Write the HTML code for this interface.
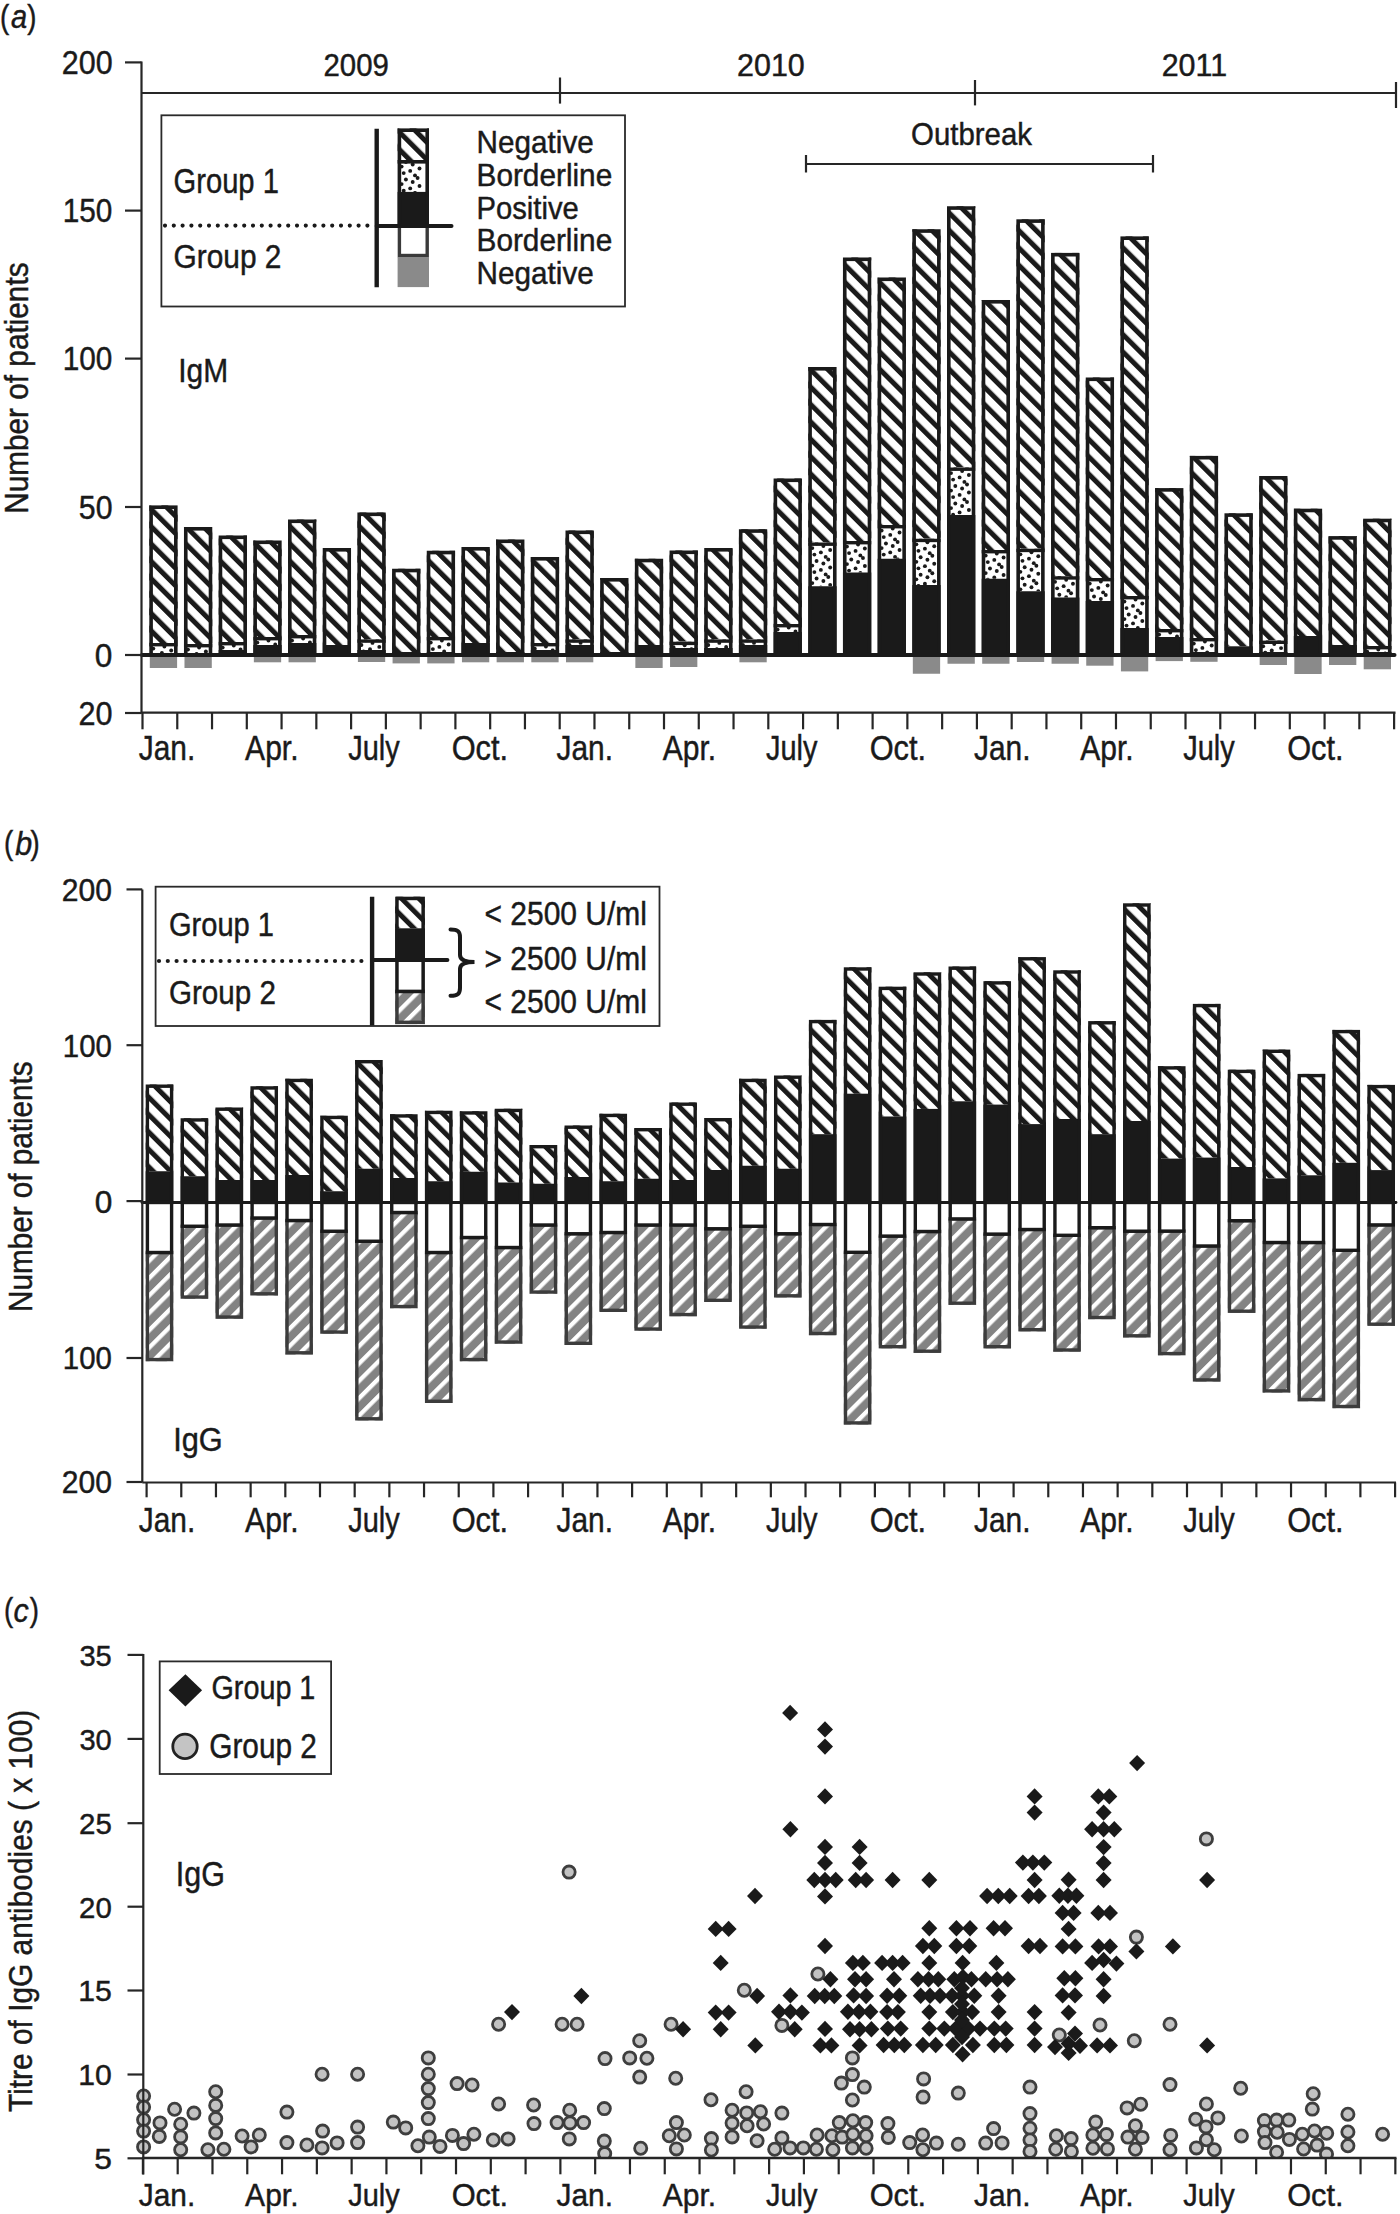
<!DOCTYPE html><html><head><meta charset="utf-8"><title>Figure</title><style>html,body{margin:0;padding:0;background:#fff;}svg{display:block;}text{font-family:"Liberation Sans",Arial,sans-serif;stroke:#1a1a1a;stroke-width:0.45px;}</style></head><body>
<svg width="1400" height="2214" viewBox="0 0 1400 2214">
<defs>
<pattern id="hb" patternUnits="userSpaceOnUse" width="12.282" height="20" patternTransform="rotate(-45) translate(2.296,0)"><rect width="12.282" height="20" fill="#fff"/><rect width="5.0" height="20" fill="#1a1a1a"/></pattern>
<pattern id="hg" patternUnits="userSpaceOnUse" width="12.282" height="20" patternTransform="rotate(45)"><rect width="12.282" height="20" fill="#838383"/><rect width="4.3" height="20" fill="#fff"/></pattern>
<pattern id="dt" patternUnits="userSpaceOnUse" width="7.2" height="7.2"><rect width="7.2" height="7.2" fill="#fff"/><circle cx="1.8" cy="1.8" r="1.55" fill="#1a1a1a"/><circle cx="5.4" cy="5.4" r="1.55" fill="#1a1a1a"/></pattern>
</defs>
<rect width="1400" height="2214" fill="#fff"/>
<text transform="translate(-0.02,28.00) scale(0.8356,1)" font-size="32.97" fill="#1a1a1a">(</text>
<text transform="translate(10.95,28.30) scale(0.8660,1)" font-size="33.49" font-style="italic" fill="#1a1a1a">a</text>
<text transform="translate(27.19,28.00) scale(0.8356,1)" font-size="32.97" fill="#1a1a1a">)</text>
<rect x="149.80" y="656.00" width="27.30" height="12.00" fill="#8a8a8a" stroke="none" stroke-width="0"/>
<rect x="149.30" y="505.40" width="28.30" height="137.60" fill="url(#hb)" stroke="none" stroke-width="0"/>
<clipPath id="dc1"><rect x="149.30" y="643.00" width="28.30" height="10.00"/></clipPath>
<rect x="149.30" y="643.00" width="28.30" height="10.00" fill="#fff"/>
<g clip-path="url(#dc1)" fill="#1a1a1a"><circle cx="157.60" cy="644.00" r="1.95"/><circle cx="164.40" cy="646.50" r="1.95"/><circle cx="153.30" cy="648.60" r="1.95"/><circle cx="161.90" cy="652.90" r="1.95"/><circle cx="171.20" cy="650.50" r="1.95"/><circle cx="169.30" cy="642.50" r="1.95"/></g>
<rect x="149.30" y="643.00" width="28.30" height="3.40" fill="#1a1a1a" stroke="none" stroke-width="0"/>
<rect x="149.30" y="653.00" width="28.30" height="2.00" fill="#1a1a1a" stroke="none" stroke-width="0"/>
<rect x="151.10" y="507.20" width="24.70" height="147.80" fill="none" stroke="#1a1a1a" stroke-width="3.6"/>
<rect x="184.48" y="656.00" width="27.30" height="12.00" fill="#8a8a8a" stroke="none" stroke-width="0"/>
<rect x="183.98" y="527.00" width="28.30" height="117.00" fill="url(#hb)" stroke="none" stroke-width="0"/>
<clipPath id="dc2"><rect x="183.98" y="644.00" width="28.30" height="9.00"/></clipPath>
<rect x="183.98" y="644.00" width="28.30" height="9.00" fill="#fff"/>
<g clip-path="url(#dc2)" fill="#1a1a1a"><circle cx="192.28" cy="645.00" r="1.95"/><circle cx="199.08" cy="647.50" r="1.95"/><circle cx="187.98" cy="649.60" r="1.95"/><circle cx="196.58" cy="653.90" r="1.95"/><circle cx="205.88" cy="651.50" r="1.95"/><circle cx="203.98" cy="643.50" r="1.95"/></g>
<rect x="183.98" y="644.00" width="28.30" height="3.40" fill="#1a1a1a" stroke="none" stroke-width="0"/>
<rect x="183.98" y="653.00" width="28.30" height="2.00" fill="#1a1a1a" stroke="none" stroke-width="0"/>
<rect x="185.78" y="528.80" width="24.70" height="126.20" fill="none" stroke="#1a1a1a" stroke-width="3.6"/>
<rect x="218.67" y="535.50" width="28.30" height="106.50" fill="url(#hb)" stroke="none" stroke-width="0"/>
<clipPath id="dc3"><rect x="218.67" y="642.00" width="28.30" height="8.00"/></clipPath>
<rect x="218.67" y="642.00" width="28.30" height="8.00" fill="#fff"/>
<g clip-path="url(#dc3)" fill="#1a1a1a"><circle cx="226.97" cy="643.00" r="1.95"/><circle cx="233.77" cy="645.50" r="1.95"/><circle cx="222.67" cy="647.60" r="1.95"/><circle cx="231.27" cy="651.90" r="1.95"/><circle cx="240.57" cy="649.50" r="1.95"/><circle cx="238.67" cy="641.50" r="1.95"/></g>
<rect x="218.67" y="642.00" width="28.30" height="3.40" fill="#1a1a1a" stroke="none" stroke-width="0"/>
<rect x="218.67" y="650.00" width="28.30" height="5.00" fill="#1a1a1a" stroke="none" stroke-width="0"/>
<rect x="220.47" y="537.30" width="24.70" height="117.70" fill="none" stroke="#1a1a1a" stroke-width="3.6"/>
<rect x="253.85" y="656.00" width="27.30" height="6.30" fill="#8a8a8a" stroke="none" stroke-width="0"/>
<rect x="253.35" y="540.50" width="28.30" height="96.50" fill="url(#hb)" stroke="none" stroke-width="0"/>
<clipPath id="dc4"><rect x="253.35" y="637.00" width="28.30" height="8.00"/></clipPath>
<rect x="253.35" y="637.00" width="28.30" height="8.00" fill="#fff"/>
<g clip-path="url(#dc4)" fill="#1a1a1a"><circle cx="261.65" cy="638.00" r="1.95"/><circle cx="268.45" cy="640.50" r="1.95"/><circle cx="257.35" cy="642.60" r="1.95"/><circle cx="265.95" cy="646.90" r="1.95"/><circle cx="275.25" cy="644.50" r="1.95"/><circle cx="273.35" cy="636.50" r="1.95"/></g>
<rect x="253.35" y="637.00" width="28.30" height="3.40" fill="#1a1a1a" stroke="none" stroke-width="0"/>
<rect x="253.35" y="645.00" width="28.30" height="10.00" fill="#1a1a1a" stroke="none" stroke-width="0"/>
<rect x="255.15" y="542.30" width="24.70" height="112.70" fill="none" stroke="#1a1a1a" stroke-width="3.6"/>
<rect x="288.53" y="656.00" width="27.30" height="6.30" fill="#8a8a8a" stroke="none" stroke-width="0"/>
<rect x="288.03" y="519.50" width="28.30" height="115.50" fill="url(#hb)" stroke="none" stroke-width="0"/>
<clipPath id="dc5"><rect x="288.03" y="635.00" width="28.30" height="8.00"/></clipPath>
<rect x="288.03" y="635.00" width="28.30" height="8.00" fill="#fff"/>
<g clip-path="url(#dc5)" fill="#1a1a1a"><circle cx="296.33" cy="636.00" r="1.95"/><circle cx="303.13" cy="638.50" r="1.95"/><circle cx="292.03" cy="640.60" r="1.95"/><circle cx="300.63" cy="644.90" r="1.95"/><circle cx="309.93" cy="642.50" r="1.95"/><circle cx="308.03" cy="634.50" r="1.95"/></g>
<rect x="288.03" y="635.00" width="28.30" height="3.40" fill="#1a1a1a" stroke="none" stroke-width="0"/>
<rect x="288.03" y="643.00" width="28.30" height="12.00" fill="#1a1a1a" stroke="none" stroke-width="0"/>
<rect x="289.83" y="521.30" width="24.70" height="133.70" fill="none" stroke="#1a1a1a" stroke-width="3.6"/>
<rect x="322.72" y="548.00" width="28.30" height="97.00" fill="url(#hb)" stroke="none" stroke-width="0"/>
<clipPath id="dc6"><rect x="322.72" y="645.00" width="28.30" height="3.00"/></clipPath>
<rect x="322.72" y="645.00" width="28.30" height="3.00" fill="#fff"/>
<g clip-path="url(#dc6)" fill="#1a1a1a"><circle cx="331.02" cy="646.00" r="1.95"/><circle cx="337.82" cy="648.50" r="1.95"/><circle cx="342.72" cy="644.50" r="1.95"/></g>
<rect x="322.72" y="645.00" width="28.30" height="3.00" fill="#1a1a1a" stroke="none" stroke-width="0"/>
<rect x="322.72" y="648.00" width="28.30" height="7.00" fill="#1a1a1a" stroke="none" stroke-width="0"/>
<rect x="324.52" y="549.80" width="24.70" height="105.20" fill="none" stroke="#1a1a1a" stroke-width="3.6"/>
<rect x="357.90" y="656.00" width="27.30" height="6.00" fill="#8a8a8a" stroke="none" stroke-width="0"/>
<rect x="357.40" y="512.50" width="28.30" height="126.90" fill="url(#hb)" stroke="none" stroke-width="0"/>
<clipPath id="dc7"><rect x="357.40" y="639.40" width="28.30" height="10.60"/></clipPath>
<rect x="357.40" y="639.40" width="28.30" height="10.60" fill="#fff"/>
<g clip-path="url(#dc7)" fill="#1a1a1a"><circle cx="365.70" cy="640.40" r="1.95"/><circle cx="372.50" cy="642.90" r="1.95"/><circle cx="361.40" cy="645.00" r="1.95"/><circle cx="370.00" cy="649.30" r="1.95"/><circle cx="363.50" cy="651.50" r="1.95"/><circle cx="379.30" cy="646.90" r="1.95"/><circle cx="377.40" cy="638.90" r="1.95"/></g>
<rect x="357.40" y="639.40" width="28.30" height="3.40" fill="#1a1a1a" stroke="none" stroke-width="0"/>
<rect x="357.40" y="650.00" width="28.30" height="5.00" fill="#1a1a1a" stroke="none" stroke-width="0"/>
<rect x="359.20" y="514.30" width="24.70" height="140.70" fill="none" stroke="#1a1a1a" stroke-width="3.6"/>
<rect x="392.58" y="656.00" width="27.30" height="7.40" fill="#8a8a8a" stroke="none" stroke-width="0"/>
<rect x="392.08" y="568.75" width="28.30" height="83.25" fill="url(#hb)" stroke="none" stroke-width="0"/>
<clipPath id="dc8"><rect x="392.08" y="652.00" width="28.30" height="1.00"/></clipPath>
<rect x="392.08" y="652.00" width="28.30" height="1.00" fill="#fff"/>
<g clip-path="url(#dc8)" fill="#1a1a1a"><circle cx="400.38" cy="653.00" r="1.95"/><circle cx="412.08" cy="651.50" r="1.95"/></g>
<rect x="392.08" y="652.00" width="28.30" height="1.00" fill="#1a1a1a" stroke="none" stroke-width="0"/>
<rect x="392.08" y="653.00" width="28.30" height="2.00" fill="#1a1a1a" stroke="none" stroke-width="0"/>
<rect x="393.88" y="570.55" width="24.70" height="84.45" fill="none" stroke="#1a1a1a" stroke-width="3.6"/>
<rect x="427.26" y="656.00" width="27.30" height="7.40" fill="#8a8a8a" stroke="none" stroke-width="0"/>
<rect x="426.76" y="550.75" width="28.30" height="86.25" fill="url(#hb)" stroke="none" stroke-width="0"/>
<clipPath id="dc9"><rect x="426.76" y="637.00" width="28.30" height="15.00"/></clipPath>
<rect x="426.76" y="637.00" width="28.30" height="15.00" fill="#fff"/>
<g clip-path="url(#dc9)" fill="#1a1a1a"><circle cx="435.06" cy="638.00" r="1.95"/><circle cx="441.86" cy="640.50" r="1.95"/><circle cx="430.76" cy="642.60" r="1.95"/><circle cx="439.36" cy="646.90" r="1.95"/><circle cx="432.86" cy="649.10" r="1.95"/><circle cx="444.16" cy="651.40" r="1.95"/><circle cx="448.66" cy="644.50" r="1.95"/><circle cx="446.76" cy="636.50" r="1.95"/></g>
<rect x="426.76" y="637.00" width="28.30" height="3.40" fill="#1a1a1a" stroke="none" stroke-width="0"/>
<rect x="426.76" y="652.00" width="28.30" height="3.00" fill="#1a1a1a" stroke="none" stroke-width="0"/>
<rect x="428.56" y="552.55" width="24.70" height="102.45" fill="none" stroke="#1a1a1a" stroke-width="3.6"/>
<rect x="461.95" y="656.00" width="27.30" height="6.30" fill="#8a8a8a" stroke="none" stroke-width="0"/>
<rect x="461.45" y="547.00" width="28.30" height="96.00" fill="url(#hb)" stroke="none" stroke-width="0"/>
<clipPath id="dc10"><rect x="461.45" y="643.00" width="28.30" height="2.00"/></clipPath>
<rect x="461.45" y="643.00" width="28.30" height="2.00" fill="#fff"/>
<g clip-path="url(#dc10)" fill="#1a1a1a"><circle cx="469.75" cy="644.00" r="1.95"/><circle cx="476.55" cy="646.50" r="1.95"/><circle cx="481.45" cy="642.50" r="1.95"/></g>
<rect x="461.45" y="643.00" width="28.30" height="2.00" fill="#1a1a1a" stroke="none" stroke-width="0"/>
<rect x="461.45" y="645.00" width="28.30" height="10.00" fill="#1a1a1a" stroke="none" stroke-width="0"/>
<rect x="463.25" y="548.80" width="24.70" height="106.20" fill="none" stroke="#1a1a1a" stroke-width="3.6"/>
<rect x="496.63" y="656.00" width="27.30" height="6.30" fill="#8a8a8a" stroke="none" stroke-width="0"/>
<rect x="496.13" y="539.50" width="28.30" height="112.50" fill="url(#hb)" stroke="none" stroke-width="0"/>
<rect x="496.13" y="652.00" width="28.30" height="3.00" fill="#1a1a1a" stroke="none" stroke-width="0"/>
<rect x="497.93" y="541.30" width="24.70" height="113.70" fill="none" stroke="#1a1a1a" stroke-width="3.6"/>
<rect x="531.31" y="656.00" width="27.30" height="6.30" fill="#8a8a8a" stroke="none" stroke-width="0"/>
<rect x="530.81" y="557.00" width="28.30" height="86.00" fill="url(#hb)" stroke="none" stroke-width="0"/>
<clipPath id="dc11"><rect x="530.81" y="643.00" width="28.30" height="7.00"/></clipPath>
<rect x="530.81" y="643.00" width="28.30" height="7.00" fill="#fff"/>
<g clip-path="url(#dc11)" fill="#1a1a1a"><circle cx="539.11" cy="644.00" r="1.95"/><circle cx="545.91" cy="646.50" r="1.95"/><circle cx="534.81" cy="648.60" r="1.95"/><circle cx="552.71" cy="650.50" r="1.95"/><circle cx="550.81" cy="642.50" r="1.95"/></g>
<rect x="530.81" y="643.00" width="28.30" height="3.40" fill="#1a1a1a" stroke="none" stroke-width="0"/>
<rect x="530.81" y="650.00" width="28.30" height="5.00" fill="#1a1a1a" stroke="none" stroke-width="0"/>
<rect x="532.61" y="558.80" width="24.70" height="96.20" fill="none" stroke="#1a1a1a" stroke-width="3.6"/>
<rect x="566.00" y="656.00" width="27.30" height="6.30" fill="#8a8a8a" stroke="none" stroke-width="0"/>
<rect x="565.50" y="530.50" width="28.30" height="108.90" fill="url(#hb)" stroke="none" stroke-width="0"/>
<clipPath id="dc12"><rect x="565.50" y="639.40" width="28.30" height="5.60"/></clipPath>
<rect x="565.50" y="639.40" width="28.30" height="5.60" fill="#fff"/>
<g clip-path="url(#dc12)" fill="#1a1a1a"><circle cx="573.80" cy="640.40" r="1.95"/><circle cx="580.60" cy="642.90" r="1.95"/><circle cx="569.50" cy="645.00" r="1.95"/><circle cx="587.40" cy="646.90" r="1.95"/><circle cx="585.50" cy="638.90" r="1.95"/></g>
<rect x="565.50" y="639.40" width="28.30" height="3.40" fill="#1a1a1a" stroke="none" stroke-width="0"/>
<rect x="565.50" y="645.00" width="28.30" height="10.00" fill="#1a1a1a" stroke="none" stroke-width="0"/>
<rect x="567.30" y="532.30" width="24.70" height="122.70" fill="none" stroke="#1a1a1a" stroke-width="3.6"/>
<rect x="600.18" y="578.00" width="28.30" height="74.00" fill="url(#hb)" stroke="none" stroke-width="0"/>
<rect x="600.18" y="652.00" width="28.30" height="3.00" fill="#1a1a1a" stroke="none" stroke-width="0"/>
<rect x="601.98" y="579.80" width="24.70" height="75.20" fill="none" stroke="#1a1a1a" stroke-width="3.6"/>
<rect x="635.36" y="656.00" width="27.30" height="12.00" fill="#8a8a8a" stroke="none" stroke-width="0"/>
<rect x="634.86" y="558.75" width="28.30" height="86.25" fill="url(#hb)" stroke="none" stroke-width="0"/>
<rect x="634.86" y="645.00" width="28.30" height="10.00" fill="#1a1a1a" stroke="none" stroke-width="0"/>
<rect x="636.66" y="560.55" width="24.70" height="94.45" fill="none" stroke="#1a1a1a" stroke-width="3.6"/>
<rect x="670.05" y="656.00" width="27.30" height="11.00" fill="#8a8a8a" stroke="none" stroke-width="0"/>
<rect x="669.55" y="550.50" width="28.30" height="91.20" fill="url(#hb)" stroke="none" stroke-width="0"/>
<clipPath id="dc13"><rect x="669.55" y="641.70" width="28.30" height="6.30"/></clipPath>
<rect x="669.55" y="641.70" width="28.30" height="6.30" fill="#fff"/>
<g clip-path="url(#dc13)" fill="#1a1a1a"><circle cx="677.85" cy="642.70" r="1.95"/><circle cx="684.65" cy="645.20" r="1.95"/><circle cx="673.55" cy="647.30" r="1.95"/><circle cx="691.45" cy="649.20" r="1.95"/><circle cx="689.55" cy="641.20" r="1.95"/></g>
<rect x="669.55" y="641.70" width="28.30" height="3.40" fill="#1a1a1a" stroke="none" stroke-width="0"/>
<rect x="669.55" y="648.00" width="28.30" height="7.00" fill="#1a1a1a" stroke="none" stroke-width="0"/>
<rect x="671.35" y="552.30" width="24.70" height="102.70" fill="none" stroke="#1a1a1a" stroke-width="3.6"/>
<rect x="704.23" y="548.00" width="28.30" height="91.40" fill="url(#hb)" stroke="none" stroke-width="0"/>
<clipPath id="dc14"><rect x="704.23" y="639.40" width="28.30" height="8.60"/></clipPath>
<rect x="704.23" y="639.40" width="28.30" height="8.60" fill="#fff"/>
<g clip-path="url(#dc14)" fill="#1a1a1a"><circle cx="712.53" cy="640.40" r="1.95"/><circle cx="719.33" cy="642.90" r="1.95"/><circle cx="708.23" cy="645.00" r="1.95"/><circle cx="716.83" cy="649.30" r="1.95"/><circle cx="726.13" cy="646.90" r="1.95"/><circle cx="724.23" cy="638.90" r="1.95"/></g>
<rect x="704.23" y="639.40" width="28.30" height="3.40" fill="#1a1a1a" stroke="none" stroke-width="0"/>
<rect x="704.23" y="648.00" width="28.30" height="7.00" fill="#1a1a1a" stroke="none" stroke-width="0"/>
<rect x="706.03" y="549.80" width="24.70" height="105.20" fill="none" stroke="#1a1a1a" stroke-width="3.6"/>
<rect x="739.41" y="656.00" width="27.30" height="6.30" fill="#8a8a8a" stroke="none" stroke-width="0"/>
<rect x="738.91" y="529.25" width="28.30" height="110.15" fill="url(#hb)" stroke="none" stroke-width="0"/>
<clipPath id="dc15"><rect x="738.91" y="639.40" width="28.30" height="5.60"/></clipPath>
<rect x="738.91" y="639.40" width="28.30" height="5.60" fill="#fff"/>
<g clip-path="url(#dc15)" fill="#1a1a1a"><circle cx="747.21" cy="640.40" r="1.95"/><circle cx="754.01" cy="642.90" r="1.95"/><circle cx="742.91" cy="645.00" r="1.95"/><circle cx="760.81" cy="646.90" r="1.95"/><circle cx="758.91" cy="638.90" r="1.95"/></g>
<rect x="738.91" y="639.40" width="28.30" height="3.40" fill="#1a1a1a" stroke="none" stroke-width="0"/>
<rect x="738.91" y="645.00" width="28.30" height="10.00" fill="#1a1a1a" stroke="none" stroke-width="0"/>
<rect x="740.71" y="531.05" width="24.70" height="123.95" fill="none" stroke="#1a1a1a" stroke-width="3.6"/>
<rect x="773.59" y="478.50" width="28.30" height="145.50" fill="url(#hb)" stroke="none" stroke-width="0"/>
<clipPath id="dc16"><rect x="773.59" y="624.00" width="28.30" height="8.00"/></clipPath>
<rect x="773.59" y="624.00" width="28.30" height="8.00" fill="#fff"/>
<g clip-path="url(#dc16)" fill="#1a1a1a"><circle cx="781.89" cy="625.00" r="1.95"/><circle cx="788.69" cy="627.50" r="1.95"/><circle cx="777.59" cy="629.60" r="1.95"/><circle cx="786.19" cy="633.90" r="1.95"/><circle cx="795.49" cy="631.50" r="1.95"/><circle cx="793.59" cy="623.50" r="1.95"/></g>
<rect x="773.59" y="624.00" width="28.30" height="3.40" fill="#1a1a1a" stroke="none" stroke-width="0"/>
<rect x="773.59" y="632.00" width="28.30" height="23.00" fill="#1a1a1a" stroke="none" stroke-width="0"/>
<rect x="775.39" y="480.30" width="24.70" height="174.70" fill="none" stroke="#1a1a1a" stroke-width="3.6"/>
<rect x="808.28" y="367.00" width="28.30" height="175.50" fill="url(#hb)" stroke="none" stroke-width="0"/>
<clipPath id="dc17"><rect x="808.28" y="542.50" width="28.30" height="43.75"/></clipPath>
<rect x="808.28" y="542.50" width="28.30" height="43.75" fill="#fff"/>
<g clip-path="url(#dc17)" fill="#1a1a1a"><circle cx="816.58" cy="543.50" r="1.95"/><circle cx="823.38" cy="546.00" r="1.95"/><circle cx="812.28" cy="548.10" r="1.95"/><circle cx="820.88" cy="552.40" r="1.95"/><circle cx="814.38" cy="554.60" r="1.95"/><circle cx="825.68" cy="556.90" r="1.95"/><circle cx="830.18" cy="550.00" r="1.95"/><circle cx="828.28" cy="542.00" r="1.95"/><circle cx="816.58" cy="561.00" r="1.95"/><circle cx="823.38" cy="563.50" r="1.95"/><circle cx="812.28" cy="565.60" r="1.95"/><circle cx="820.88" cy="569.90" r="1.95"/><circle cx="814.38" cy="572.10" r="1.95"/><circle cx="825.68" cy="574.40" r="1.95"/><circle cx="830.18" cy="567.50" r="1.95"/><circle cx="828.28" cy="559.50" r="1.95"/><circle cx="816.58" cy="578.50" r="1.95"/><circle cx="823.38" cy="581.00" r="1.95"/><circle cx="812.28" cy="583.10" r="1.95"/><circle cx="820.88" cy="587.40" r="1.95"/><circle cx="830.18" cy="585.00" r="1.95"/><circle cx="828.28" cy="577.00" r="1.95"/></g>
<rect x="808.28" y="542.50" width="28.30" height="3.40" fill="#1a1a1a" stroke="none" stroke-width="0"/>
<rect x="808.28" y="586.25" width="28.30" height="68.75" fill="#1a1a1a" stroke="none" stroke-width="0"/>
<rect x="810.08" y="368.80" width="24.70" height="286.20" fill="none" stroke="#1a1a1a" stroke-width="3.6"/>
<rect x="842.96" y="257.50" width="28.30" height="283.50" fill="url(#hb)" stroke="none" stroke-width="0"/>
<clipPath id="dc18"><rect x="842.96" y="541.00" width="28.30" height="31.50"/></clipPath>
<rect x="842.96" y="541.00" width="28.30" height="31.50" fill="#fff"/>
<g clip-path="url(#dc18)" fill="#1a1a1a"><circle cx="851.26" cy="542.00" r="1.95"/><circle cx="858.06" cy="544.50" r="1.95"/><circle cx="846.96" cy="546.60" r="1.95"/><circle cx="855.56" cy="550.90" r="1.95"/><circle cx="849.06" cy="553.10" r="1.95"/><circle cx="860.36" cy="555.40" r="1.95"/><circle cx="864.86" cy="548.50" r="1.95"/><circle cx="862.96" cy="540.50" r="1.95"/><circle cx="851.26" cy="559.50" r="1.95"/><circle cx="858.06" cy="562.00" r="1.95"/><circle cx="846.96" cy="564.10" r="1.95"/><circle cx="855.56" cy="568.40" r="1.95"/><circle cx="849.06" cy="570.60" r="1.95"/><circle cx="860.36" cy="572.90" r="1.95"/><circle cx="864.86" cy="566.00" r="1.95"/><circle cx="862.96" cy="558.00" r="1.95"/></g>
<rect x="842.96" y="541.00" width="28.30" height="3.40" fill="#1a1a1a" stroke="none" stroke-width="0"/>
<rect x="842.96" y="572.50" width="28.30" height="82.50" fill="#1a1a1a" stroke="none" stroke-width="0"/>
<rect x="844.76" y="259.30" width="24.70" height="395.70" fill="none" stroke="#1a1a1a" stroke-width="3.6"/>
<rect x="877.64" y="277.50" width="28.30" height="247.50" fill="url(#hb)" stroke="none" stroke-width="0"/>
<clipPath id="dc19"><rect x="877.64" y="525.00" width="28.30" height="33.75"/></clipPath>
<rect x="877.64" y="525.00" width="28.30" height="33.75" fill="#fff"/>
<g clip-path="url(#dc19)" fill="#1a1a1a"><circle cx="885.94" cy="526.00" r="1.95"/><circle cx="892.74" cy="528.50" r="1.95"/><circle cx="881.64" cy="530.60" r="1.95"/><circle cx="890.24" cy="534.90" r="1.95"/><circle cx="883.74" cy="537.10" r="1.95"/><circle cx="895.04" cy="539.40" r="1.95"/><circle cx="899.54" cy="532.50" r="1.95"/><circle cx="897.64" cy="524.50" r="1.95"/><circle cx="885.94" cy="543.50" r="1.95"/><circle cx="892.74" cy="546.00" r="1.95"/><circle cx="881.64" cy="548.10" r="1.95"/><circle cx="890.24" cy="552.40" r="1.95"/><circle cx="883.74" cy="554.60" r="1.95"/><circle cx="895.04" cy="556.90" r="1.95"/><circle cx="899.54" cy="550.00" r="1.95"/><circle cx="897.64" cy="542.00" r="1.95"/><circle cx="897.64" cy="559.50" r="1.95"/></g>
<rect x="877.64" y="525.00" width="28.30" height="3.40" fill="#1a1a1a" stroke="none" stroke-width="0"/>
<rect x="877.64" y="558.75" width="28.30" height="96.25" fill="#1a1a1a" stroke="none" stroke-width="0"/>
<rect x="879.44" y="279.30" width="24.70" height="375.70" fill="none" stroke="#1a1a1a" stroke-width="3.6"/>
<rect x="912.83" y="656.00" width="27.30" height="17.75" fill="#8a8a8a" stroke="none" stroke-width="0"/>
<rect x="912.33" y="229.25" width="28.30" height="309.50" fill="url(#hb)" stroke="none" stroke-width="0"/>
<clipPath id="dc20"><rect x="912.33" y="538.75" width="28.30" height="46.25"/></clipPath>
<rect x="912.33" y="538.75" width="28.30" height="46.25" fill="#fff"/>
<g clip-path="url(#dc20)" fill="#1a1a1a"><circle cx="920.63" cy="539.75" r="1.95"/><circle cx="927.43" cy="542.25" r="1.95"/><circle cx="916.33" cy="544.35" r="1.95"/><circle cx="924.93" cy="548.65" r="1.95"/><circle cx="918.43" cy="550.85" r="1.95"/><circle cx="929.73" cy="553.15" r="1.95"/><circle cx="934.23" cy="546.25" r="1.95"/><circle cx="932.33" cy="538.25" r="1.95"/><circle cx="920.63" cy="557.25" r="1.95"/><circle cx="927.43" cy="559.75" r="1.95"/><circle cx="916.33" cy="561.85" r="1.95"/><circle cx="924.93" cy="566.15" r="1.95"/><circle cx="918.43" cy="568.35" r="1.95"/><circle cx="929.73" cy="570.65" r="1.95"/><circle cx="934.23" cy="563.75" r="1.95"/><circle cx="932.33" cy="555.75" r="1.95"/><circle cx="920.63" cy="574.75" r="1.95"/><circle cx="927.43" cy="577.25" r="1.95"/><circle cx="916.33" cy="579.35" r="1.95"/><circle cx="924.93" cy="583.65" r="1.95"/><circle cx="918.43" cy="585.85" r="1.95"/><circle cx="934.23" cy="581.25" r="1.95"/><circle cx="932.33" cy="573.25" r="1.95"/></g>
<rect x="912.33" y="538.75" width="28.30" height="3.40" fill="#1a1a1a" stroke="none" stroke-width="0"/>
<rect x="912.33" y="585.00" width="28.30" height="70.00" fill="#1a1a1a" stroke="none" stroke-width="0"/>
<rect x="914.13" y="231.05" width="24.70" height="423.95" fill="none" stroke="#1a1a1a" stroke-width="3.6"/>
<rect x="947.51" y="656.00" width="27.30" height="7.75" fill="#8a8a8a" stroke="none" stroke-width="0"/>
<rect x="947.01" y="206.25" width="28.30" height="261.25" fill="url(#hb)" stroke="none" stroke-width="0"/>
<clipPath id="dc21"><rect x="947.01" y="467.50" width="28.30" height="47.50"/></clipPath>
<rect x="947.01" y="467.50" width="28.30" height="47.50" fill="#fff"/>
<g clip-path="url(#dc21)" fill="#1a1a1a"><circle cx="955.31" cy="468.50" r="1.95"/><circle cx="962.11" cy="471.00" r="1.95"/><circle cx="951.01" cy="473.10" r="1.95"/><circle cx="959.61" cy="477.40" r="1.95"/><circle cx="953.11" cy="479.60" r="1.95"/><circle cx="964.41" cy="481.90" r="1.95"/><circle cx="968.91" cy="475.00" r="1.95"/><circle cx="967.01" cy="467.00" r="1.95"/><circle cx="955.31" cy="486.00" r="1.95"/><circle cx="962.11" cy="488.50" r="1.95"/><circle cx="951.01" cy="490.60" r="1.95"/><circle cx="959.61" cy="494.90" r="1.95"/><circle cx="953.11" cy="497.10" r="1.95"/><circle cx="964.41" cy="499.40" r="1.95"/><circle cx="968.91" cy="492.50" r="1.95"/><circle cx="967.01" cy="484.50" r="1.95"/><circle cx="955.31" cy="503.50" r="1.95"/><circle cx="962.11" cy="506.00" r="1.95"/><circle cx="951.01" cy="508.10" r="1.95"/><circle cx="959.61" cy="512.40" r="1.95"/><circle cx="953.11" cy="514.60" r="1.95"/><circle cx="964.41" cy="516.90" r="1.95"/><circle cx="968.91" cy="510.00" r="1.95"/><circle cx="967.01" cy="502.00" r="1.95"/></g>
<rect x="947.01" y="467.50" width="28.30" height="3.40" fill="#1a1a1a" stroke="none" stroke-width="0"/>
<rect x="947.01" y="515.00" width="28.30" height="140.00" fill="#1a1a1a" stroke="none" stroke-width="0"/>
<rect x="948.81" y="208.05" width="24.70" height="446.95" fill="none" stroke="#1a1a1a" stroke-width="3.6"/>
<rect x="982.19" y="656.00" width="27.30" height="7.75" fill="#8a8a8a" stroke="none" stroke-width="0"/>
<rect x="981.69" y="300.00" width="28.30" height="250.00" fill="url(#hb)" stroke="none" stroke-width="0"/>
<clipPath id="dc22"><rect x="981.69" y="550.00" width="28.30" height="28.75"/></clipPath>
<rect x="981.69" y="550.00" width="28.30" height="28.75" fill="#fff"/>
<g clip-path="url(#dc22)" fill="#1a1a1a"><circle cx="989.99" cy="551.00" r="1.95"/><circle cx="996.79" cy="553.50" r="1.95"/><circle cx="985.69" cy="555.60" r="1.95"/><circle cx="994.29" cy="559.90" r="1.95"/><circle cx="987.79" cy="562.10" r="1.95"/><circle cx="999.09" cy="564.40" r="1.95"/><circle cx="1003.59" cy="557.50" r="1.95"/><circle cx="1001.69" cy="549.50" r="1.95"/><circle cx="989.99" cy="568.50" r="1.95"/><circle cx="996.79" cy="571.00" r="1.95"/><circle cx="985.69" cy="573.10" r="1.95"/><circle cx="994.29" cy="577.40" r="1.95"/><circle cx="987.79" cy="579.60" r="1.95"/><circle cx="1003.59" cy="575.00" r="1.95"/><circle cx="1001.69" cy="567.00" r="1.95"/></g>
<rect x="981.69" y="550.00" width="28.30" height="3.40" fill="#1a1a1a" stroke="none" stroke-width="0"/>
<rect x="981.69" y="578.75" width="28.30" height="76.25" fill="#1a1a1a" stroke="none" stroke-width="0"/>
<rect x="983.49" y="301.80" width="24.70" height="353.20" fill="none" stroke="#1a1a1a" stroke-width="3.6"/>
<rect x="1016.88" y="656.00" width="27.30" height="6.00" fill="#8a8a8a" stroke="none" stroke-width="0"/>
<rect x="1016.38" y="219.30" width="28.30" height="329.45" fill="url(#hb)" stroke="none" stroke-width="0"/>
<clipPath id="dc23"><rect x="1016.38" y="548.75" width="28.30" height="42.50"/></clipPath>
<rect x="1016.38" y="548.75" width="28.30" height="42.50" fill="#fff"/>
<g clip-path="url(#dc23)" fill="#1a1a1a"><circle cx="1024.67" cy="549.75" r="1.95"/><circle cx="1031.47" cy="552.25" r="1.95"/><circle cx="1020.38" cy="554.35" r="1.95"/><circle cx="1028.97" cy="558.65" r="1.95"/><circle cx="1022.48" cy="560.85" r="1.95"/><circle cx="1033.78" cy="563.15" r="1.95"/><circle cx="1038.28" cy="556.25" r="1.95"/><circle cx="1036.38" cy="548.25" r="1.95"/><circle cx="1024.67" cy="567.25" r="1.95"/><circle cx="1031.47" cy="569.75" r="1.95"/><circle cx="1020.38" cy="571.85" r="1.95"/><circle cx="1028.97" cy="576.15" r="1.95"/><circle cx="1022.48" cy="578.35" r="1.95"/><circle cx="1033.78" cy="580.65" r="1.95"/><circle cx="1038.28" cy="573.75" r="1.95"/><circle cx="1036.38" cy="565.75" r="1.95"/><circle cx="1024.67" cy="584.75" r="1.95"/><circle cx="1031.47" cy="587.25" r="1.95"/><circle cx="1020.38" cy="589.35" r="1.95"/><circle cx="1038.28" cy="591.25" r="1.95"/><circle cx="1036.38" cy="583.25" r="1.95"/></g>
<rect x="1016.38" y="548.75" width="28.30" height="3.40" fill="#1a1a1a" stroke="none" stroke-width="0"/>
<rect x="1016.38" y="591.25" width="28.30" height="63.75" fill="#1a1a1a" stroke="none" stroke-width="0"/>
<rect x="1018.17" y="221.10" width="24.70" height="433.90" fill="none" stroke="#1a1a1a" stroke-width="3.6"/>
<rect x="1051.56" y="656.00" width="27.30" height="7.75" fill="#8a8a8a" stroke="none" stroke-width="0"/>
<rect x="1051.06" y="252.90" width="28.30" height="323.35" fill="url(#hb)" stroke="none" stroke-width="0"/>
<clipPath id="dc24"><rect x="1051.06" y="576.25" width="28.30" height="21.25"/></clipPath>
<rect x="1051.06" y="576.25" width="28.30" height="21.25" fill="#fff"/>
<g clip-path="url(#dc24)" fill="#1a1a1a"><circle cx="1059.36" cy="577.25" r="1.95"/><circle cx="1066.16" cy="579.75" r="1.95"/><circle cx="1055.06" cy="581.85" r="1.95"/><circle cx="1063.66" cy="586.15" r="1.95"/><circle cx="1057.16" cy="588.35" r="1.95"/><circle cx="1068.46" cy="590.65" r="1.95"/><circle cx="1072.96" cy="583.75" r="1.95"/><circle cx="1071.06" cy="575.75" r="1.95"/><circle cx="1059.36" cy="594.75" r="1.95"/><circle cx="1066.16" cy="597.25" r="1.95"/><circle cx="1055.06" cy="599.35" r="1.95"/><circle cx="1071.06" cy="593.25" r="1.95"/></g>
<rect x="1051.06" y="576.25" width="28.30" height="3.40" fill="#1a1a1a" stroke="none" stroke-width="0"/>
<rect x="1051.06" y="597.50" width="28.30" height="57.50" fill="#1a1a1a" stroke="none" stroke-width="0"/>
<rect x="1052.86" y="254.70" width="24.70" height="400.30" fill="none" stroke="#1a1a1a" stroke-width="3.6"/>
<rect x="1086.24" y="656.00" width="27.30" height="9.70" fill="#8a8a8a" stroke="none" stroke-width="0"/>
<rect x="1085.74" y="377.50" width="28.30" height="200.50" fill="url(#hb)" stroke="none" stroke-width="0"/>
<clipPath id="dc25"><rect x="1085.74" y="578.00" width="28.30" height="23.00"/></clipPath>
<rect x="1085.74" y="578.00" width="28.30" height="23.00" fill="#fff"/>
<g clip-path="url(#dc25)" fill="#1a1a1a"><circle cx="1094.04" cy="579.00" r="1.95"/><circle cx="1100.84" cy="581.50" r="1.95"/><circle cx="1089.74" cy="583.60" r="1.95"/><circle cx="1098.34" cy="587.90" r="1.95"/><circle cx="1091.84" cy="590.10" r="1.95"/><circle cx="1103.14" cy="592.40" r="1.95"/><circle cx="1107.64" cy="585.50" r="1.95"/><circle cx="1105.74" cy="577.50" r="1.95"/><circle cx="1094.04" cy="596.50" r="1.95"/><circle cx="1100.84" cy="599.00" r="1.95"/><circle cx="1089.74" cy="601.10" r="1.95"/><circle cx="1105.74" cy="595.00" r="1.95"/></g>
<rect x="1085.74" y="578.00" width="28.30" height="3.40" fill="#1a1a1a" stroke="none" stroke-width="0"/>
<rect x="1085.74" y="601.00" width="28.30" height="54.00" fill="#1a1a1a" stroke="none" stroke-width="0"/>
<rect x="1087.54" y="379.30" width="24.70" height="275.70" fill="none" stroke="#1a1a1a" stroke-width="3.6"/>
<rect x="1120.92" y="656.00" width="27.30" height="15.40" fill="#8a8a8a" stroke="none" stroke-width="0"/>
<rect x="1120.42" y="236.40" width="28.30" height="359.60" fill="url(#hb)" stroke="none" stroke-width="0"/>
<clipPath id="dc26"><rect x="1120.42" y="596.00" width="28.30" height="32.00"/></clipPath>
<rect x="1120.42" y="596.00" width="28.30" height="32.00" fill="#fff"/>
<g clip-path="url(#dc26)" fill="#1a1a1a"><circle cx="1128.72" cy="597.00" r="1.95"/><circle cx="1135.52" cy="599.50" r="1.95"/><circle cx="1124.42" cy="601.60" r="1.95"/><circle cx="1133.02" cy="605.90" r="1.95"/><circle cx="1126.52" cy="608.10" r="1.95"/><circle cx="1137.82" cy="610.40" r="1.95"/><circle cx="1142.32" cy="603.50" r="1.95"/><circle cx="1140.42" cy="595.50" r="1.95"/><circle cx="1128.72" cy="614.50" r="1.95"/><circle cx="1135.52" cy="617.00" r="1.95"/><circle cx="1124.42" cy="619.10" r="1.95"/><circle cx="1133.02" cy="623.40" r="1.95"/><circle cx="1126.52" cy="625.60" r="1.95"/><circle cx="1137.82" cy="627.90" r="1.95"/><circle cx="1142.32" cy="621.00" r="1.95"/><circle cx="1140.42" cy="613.00" r="1.95"/></g>
<rect x="1120.42" y="596.00" width="28.30" height="3.40" fill="#1a1a1a" stroke="none" stroke-width="0"/>
<rect x="1120.42" y="628.00" width="28.30" height="27.00" fill="#1a1a1a" stroke="none" stroke-width="0"/>
<rect x="1122.22" y="238.20" width="24.70" height="416.80" fill="none" stroke="#1a1a1a" stroke-width="3.6"/>
<rect x="1155.61" y="656.00" width="27.30" height="5.10" fill="#8a8a8a" stroke="none" stroke-width="0"/>
<rect x="1155.11" y="488.10" width="28.30" height="140.90" fill="url(#hb)" stroke="none" stroke-width="0"/>
<clipPath id="dc27"><rect x="1155.11" y="629.00" width="28.30" height="8.00"/></clipPath>
<rect x="1155.11" y="629.00" width="28.30" height="8.00" fill="#fff"/>
<g clip-path="url(#dc27)" fill="#1a1a1a"><circle cx="1163.41" cy="630.00" r="1.95"/><circle cx="1170.21" cy="632.50" r="1.95"/><circle cx="1159.11" cy="634.60" r="1.95"/><circle cx="1167.71" cy="638.90" r="1.95"/><circle cx="1177.01" cy="636.50" r="1.95"/><circle cx="1175.11" cy="628.50" r="1.95"/></g>
<rect x="1155.11" y="629.00" width="28.30" height="3.40" fill="#1a1a1a" stroke="none" stroke-width="0"/>
<rect x="1155.11" y="637.00" width="28.30" height="18.00" fill="#1a1a1a" stroke="none" stroke-width="0"/>
<rect x="1156.91" y="489.90" width="24.70" height="165.10" fill="none" stroke="#1a1a1a" stroke-width="3.6"/>
<rect x="1190.29" y="656.00" width="27.30" height="5.80" fill="#8a8a8a" stroke="none" stroke-width="0"/>
<rect x="1189.79" y="455.90" width="28.30" height="182.10" fill="url(#hb)" stroke="none" stroke-width="0"/>
<clipPath id="dc28"><rect x="1189.79" y="638.00" width="28.30" height="14.00"/></clipPath>
<rect x="1189.79" y="638.00" width="28.30" height="14.00" fill="#fff"/>
<g clip-path="url(#dc28)" fill="#1a1a1a"><circle cx="1198.09" cy="639.00" r="1.95"/><circle cx="1204.89" cy="641.50" r="1.95"/><circle cx="1193.79" cy="643.60" r="1.95"/><circle cx="1202.39" cy="647.90" r="1.95"/><circle cx="1195.89" cy="650.10" r="1.95"/><circle cx="1207.19" cy="652.40" r="1.95"/><circle cx="1211.69" cy="645.50" r="1.95"/><circle cx="1209.79" cy="637.50" r="1.95"/></g>
<rect x="1189.79" y="638.00" width="28.30" height="3.40" fill="#1a1a1a" stroke="none" stroke-width="0"/>
<rect x="1189.79" y="652.00" width="28.30" height="3.00" fill="#1a1a1a" stroke="none" stroke-width="0"/>
<rect x="1191.59" y="457.70" width="24.70" height="197.30" fill="none" stroke="#1a1a1a" stroke-width="3.6"/>
<rect x="1224.47" y="513.30" width="28.30" height="133.00" fill="url(#hb)" stroke="none" stroke-width="0"/>
<rect x="1224.47" y="646.30" width="28.30" height="8.70" fill="#1a1a1a" stroke="none" stroke-width="0"/>
<rect x="1226.27" y="515.10" width="24.70" height="139.90" fill="none" stroke="#1a1a1a" stroke-width="3.6"/>
<rect x="1259.66" y="656.00" width="27.30" height="9.00" fill="#8a8a8a" stroke="none" stroke-width="0"/>
<rect x="1259.16" y="476.00" width="28.30" height="164.60" fill="url(#hb)" stroke="none" stroke-width="0"/>
<clipPath id="dc29"><rect x="1259.16" y="640.60" width="28.30" height="11.40"/></clipPath>
<rect x="1259.16" y="640.60" width="28.30" height="11.40" fill="#fff"/>
<g clip-path="url(#dc29)" fill="#1a1a1a"><circle cx="1267.46" cy="641.60" r="1.95"/><circle cx="1274.26" cy="644.10" r="1.95"/><circle cx="1263.16" cy="646.20" r="1.95"/><circle cx="1271.76" cy="650.50" r="1.95"/><circle cx="1265.26" cy="652.70" r="1.95"/><circle cx="1281.06" cy="648.10" r="1.95"/><circle cx="1279.16" cy="640.10" r="1.95"/></g>
<rect x="1259.16" y="640.60" width="28.30" height="3.40" fill="#1a1a1a" stroke="none" stroke-width="0"/>
<rect x="1259.16" y="652.00" width="28.30" height="3.00" fill="#1a1a1a" stroke="none" stroke-width="0"/>
<rect x="1260.96" y="477.80" width="24.70" height="177.20" fill="none" stroke="#1a1a1a" stroke-width="3.6"/>
<rect x="1294.34" y="656.00" width="27.30" height="18.00" fill="#8a8a8a" stroke="none" stroke-width="0"/>
<rect x="1293.84" y="508.70" width="28.30" height="127.30" fill="url(#hb)" stroke="none" stroke-width="0"/>
<rect x="1293.84" y="636.00" width="28.30" height="19.00" fill="#1a1a1a" stroke="none" stroke-width="0"/>
<rect x="1295.64" y="510.50" width="24.70" height="144.50" fill="none" stroke="#1a1a1a" stroke-width="3.6"/>
<rect x="1329.02" y="656.00" width="27.30" height="9.00" fill="#8a8a8a" stroke="none" stroke-width="0"/>
<rect x="1328.52" y="536.10" width="28.30" height="108.90" fill="url(#hb)" stroke="none" stroke-width="0"/>
<rect x="1328.52" y="645.00" width="28.30" height="10.00" fill="#1a1a1a" stroke="none" stroke-width="0"/>
<rect x="1330.32" y="537.90" width="24.70" height="117.10" fill="none" stroke="#1a1a1a" stroke-width="3.6"/>
<rect x="1363.70" y="656.00" width="27.30" height="13.30" fill="#8a8a8a" stroke="none" stroke-width="0"/>
<rect x="1363.20" y="518.70" width="28.30" height="127.30" fill="url(#hb)" stroke="none" stroke-width="0"/>
<clipPath id="dc30"><rect x="1363.20" y="646.00" width="28.30" height="6.00"/></clipPath>
<rect x="1363.20" y="646.00" width="28.30" height="6.00" fill="#fff"/>
<g clip-path="url(#dc30)" fill="#1a1a1a"><circle cx="1371.50" cy="647.00" r="1.95"/><circle cx="1378.30" cy="649.50" r="1.95"/><circle cx="1367.20" cy="651.60" r="1.95"/><circle cx="1385.11" cy="653.50" r="1.95"/><circle cx="1383.20" cy="645.50" r="1.95"/></g>
<rect x="1363.20" y="646.00" width="28.30" height="3.40" fill="#1a1a1a" stroke="none" stroke-width="0"/>
<rect x="1363.20" y="652.00" width="28.30" height="3.00" fill="#1a1a1a" stroke="none" stroke-width="0"/>
<rect x="1365.00" y="520.50" width="24.70" height="134.50" fill="none" stroke="#1a1a1a" stroke-width="3.6"/>
<line x1="142.00" y1="655.00" x2="1394.50" y2="655.00" stroke="#1a1a1a" stroke-width="4.0" stroke-linecap="round"/>
<line x1="141.50" y1="61.40" x2="141.50" y2="713.50" stroke="#262626" stroke-width="2.2"/>
<line x1="125.00" y1="62.40" x2="141.50" y2="62.40" stroke="#262626" stroke-width="2.2"/>
<line x1="125.00" y1="210.60" x2="141.50" y2="210.60" stroke="#262626" stroke-width="2.2"/>
<line x1="125.00" y1="358.60" x2="141.50" y2="358.60" stroke="#262626" stroke-width="2.2"/>
<line x1="125.00" y1="507.00" x2="141.50" y2="507.00" stroke="#262626" stroke-width="2.2"/>
<line x1="125.00" y1="655.00" x2="141.50" y2="655.00" stroke="#262626" stroke-width="2.2"/>
<line x1="125.00" y1="713.00" x2="141.50" y2="713.00" stroke="#262626" stroke-width="2.2"/>
<text transform="translate(61.78,73.90) scale(0.8997,1)" font-size="33.84" fill="#1a1a1a">200</text>
<text transform="translate(62.77,221.80) scale(0.8952,1)" font-size="33.26" fill="#1a1a1a">150</text>
<text transform="translate(62.77,370.00) scale(0.8952,1)" font-size="33.26" fill="#1a1a1a">100</text>
<text transform="translate(78.79,518.50) scale(0.9193,1)" font-size="32.97" fill="#1a1a1a">50</text>
<text transform="translate(94.74,666.60) scale(0.9507,1)" font-size="33.26" fill="#1a1a1a">0</text>
<text transform="translate(78.47,724.60) scale(0.9203,1)" font-size="33.26" fill="#1a1a1a">20</text>
<text transform="translate(28.00,513.76) rotate(-90) scale(0.8897,1)" font-size="33.45" fill="#1a1a1a">Number of patients</text>
<line x1="141.50" y1="712.60" x2="1395.50" y2="712.60" stroke="#262626" stroke-width="2.2"/>
<line x1="142.50" y1="712.60" x2="142.50" y2="729.30" stroke="#262626" stroke-width="2.2"/>
<line x1="177.27" y1="712.60" x2="177.27" y2="729.30" stroke="#262626" stroke-width="2.2"/>
<line x1="212.03" y1="712.60" x2="212.03" y2="729.30" stroke="#262626" stroke-width="2.2"/>
<line x1="246.80" y1="712.60" x2="246.80" y2="729.30" stroke="#262626" stroke-width="2.2"/>
<line x1="281.57" y1="712.60" x2="281.57" y2="729.30" stroke="#262626" stroke-width="2.2"/>
<line x1="316.34" y1="712.60" x2="316.34" y2="729.30" stroke="#262626" stroke-width="2.2"/>
<line x1="351.10" y1="712.60" x2="351.10" y2="729.30" stroke="#262626" stroke-width="2.2"/>
<line x1="385.87" y1="712.60" x2="385.87" y2="729.30" stroke="#262626" stroke-width="2.2"/>
<line x1="420.64" y1="712.60" x2="420.64" y2="729.30" stroke="#262626" stroke-width="2.2"/>
<line x1="455.40" y1="712.60" x2="455.40" y2="729.30" stroke="#262626" stroke-width="2.2"/>
<line x1="490.17" y1="712.60" x2="490.17" y2="729.30" stroke="#262626" stroke-width="2.2"/>
<line x1="524.94" y1="712.60" x2="524.94" y2="729.30" stroke="#262626" stroke-width="2.2"/>
<line x1="559.70" y1="712.60" x2="559.70" y2="729.30" stroke="#262626" stroke-width="2.2"/>
<line x1="594.47" y1="712.60" x2="594.47" y2="729.30" stroke="#262626" stroke-width="2.2"/>
<line x1="629.24" y1="712.60" x2="629.24" y2="729.30" stroke="#262626" stroke-width="2.2"/>
<line x1="664.00" y1="712.60" x2="664.00" y2="729.30" stroke="#262626" stroke-width="2.2"/>
<line x1="698.77" y1="712.60" x2="698.77" y2="729.30" stroke="#262626" stroke-width="2.2"/>
<line x1="733.54" y1="712.60" x2="733.54" y2="729.30" stroke="#262626" stroke-width="2.2"/>
<line x1="768.31" y1="712.60" x2="768.31" y2="729.30" stroke="#262626" stroke-width="2.2"/>
<line x1="803.07" y1="712.60" x2="803.07" y2="729.30" stroke="#262626" stroke-width="2.2"/>
<line x1="837.84" y1="712.60" x2="837.84" y2="729.30" stroke="#262626" stroke-width="2.2"/>
<line x1="872.61" y1="712.60" x2="872.61" y2="729.30" stroke="#262626" stroke-width="2.2"/>
<line x1="907.37" y1="712.60" x2="907.37" y2="729.30" stroke="#262626" stroke-width="2.2"/>
<line x1="942.14" y1="712.60" x2="942.14" y2="729.30" stroke="#262626" stroke-width="2.2"/>
<line x1="976.91" y1="712.60" x2="976.91" y2="729.30" stroke="#262626" stroke-width="2.2"/>
<line x1="1011.68" y1="712.60" x2="1011.68" y2="729.30" stroke="#262626" stroke-width="2.2"/>
<line x1="1046.44" y1="712.60" x2="1046.44" y2="729.30" stroke="#262626" stroke-width="2.2"/>
<line x1="1081.21" y1="712.60" x2="1081.21" y2="729.30" stroke="#262626" stroke-width="2.2"/>
<line x1="1115.98" y1="712.60" x2="1115.98" y2="729.30" stroke="#262626" stroke-width="2.2"/>
<line x1="1150.74" y1="712.60" x2="1150.74" y2="729.30" stroke="#262626" stroke-width="2.2"/>
<line x1="1185.51" y1="712.60" x2="1185.51" y2="729.30" stroke="#262626" stroke-width="2.2"/>
<line x1="1220.28" y1="712.60" x2="1220.28" y2="729.30" stroke="#262626" stroke-width="2.2"/>
<line x1="1255.04" y1="712.60" x2="1255.04" y2="729.30" stroke="#262626" stroke-width="2.2"/>
<line x1="1289.81" y1="712.60" x2="1289.81" y2="729.30" stroke="#262626" stroke-width="2.2"/>
<line x1="1324.58" y1="712.60" x2="1324.58" y2="729.30" stroke="#262626" stroke-width="2.2"/>
<line x1="1359.35" y1="712.60" x2="1359.35" y2="729.30" stroke="#262626" stroke-width="2.2"/>
<line x1="1394.11" y1="712.60" x2="1394.11" y2="729.30" stroke="#262626" stroke-width="2.2"/>
<text transform="translate(138.75,760.30) scale(0.8606,1)" font-size="34.76" fill="#1a1a1a">Jan.</text>
<text transform="translate(245.12,760.30) scale(0.8638,1)" font-size="34.76" fill="#1a1a1a">Apr.</text>
<text transform="translate(348.27,760.30) scale(0.8336,1)" font-size="34.76" fill="#1a1a1a">July</text>
<text transform="translate(451.64,760.30) scale(0.8859,1)" font-size="34.76" fill="#1a1a1a">Oct.</text>
<text transform="translate(556.45,760.30) scale(0.8606,1)" font-size="34.76" fill="#1a1a1a">Jan.</text>
<text transform="translate(662.82,760.30) scale(0.8638,1)" font-size="34.76" fill="#1a1a1a">Apr.</text>
<text transform="translate(765.97,760.30) scale(0.8336,1)" font-size="34.76" fill="#1a1a1a">July</text>
<text transform="translate(869.64,760.30) scale(0.8859,1)" font-size="34.76" fill="#1a1a1a">Oct.</text>
<text transform="translate(973.95,760.30) scale(0.8606,1)" font-size="34.76" fill="#1a1a1a">Jan.</text>
<text transform="translate(1080.32,760.30) scale(0.8638,1)" font-size="34.76" fill="#1a1a1a">Apr.</text>
<text transform="translate(1183.17,760.30) scale(0.8336,1)" font-size="34.76" fill="#1a1a1a">July</text>
<text transform="translate(1287.14,760.30) scale(0.8859,1)" font-size="34.76" fill="#1a1a1a">Oct.</text>
<line x1="141.50" y1="93.00" x2="1396.50" y2="93.00" stroke="#262626" stroke-width="2.2"/>
<line x1="560.00" y1="77.50" x2="560.00" y2="103.60" stroke="#262626" stroke-width="2.2"/>
<line x1="975.00" y1="80.00" x2="975.00" y2="105.40" stroke="#262626" stroke-width="2.2"/>
<line x1="1396.00" y1="82.00" x2="1396.00" y2="108.00" stroke="#262626" stroke-width="2.2"/>
<text transform="translate(323.53,75.70) scale(0.9272,1)" font-size="31.68" fill="#1a1a1a">2009</text>
<text transform="translate(737.08,75.70) scale(0.9609,1)" font-size="31.68" fill="#1a1a1a">2010</text>
<text transform="translate(1161.68,75.70) scale(0.9611,1)" font-size="31.68" fill="#1a1a1a">2011</text>
<line x1="806.00" y1="164.00" x2="1153.00" y2="164.00" stroke="#262626" stroke-width="2.2"/>
<line x1="806.00" y1="155.00" x2="806.00" y2="172.50" stroke="#262626" stroke-width="2.2"/>
<line x1="1153.00" y1="155.00" x2="1153.00" y2="172.50" stroke="#262626" stroke-width="2.2"/>
<text transform="translate(911.10,145.40) scale(0.9113,1)" font-size="32.26" fill="#1a1a1a">Outbreak</text>
<text transform="translate(178.23,382.10) scale(0.8875,1)" font-size="33.75" fill="#1a1a1a">IgM</text>
<rect x="161.40" y="115.30" width="463.60" height="191.20" fill="#fff" stroke="#2a2a2a" stroke-width="1.8"/>
<text transform="translate(173.54,192.50) scale(0.8136,1)" font-size="35.84" fill="#1a1a1a">Group 1</text>
<text transform="translate(173.51,267.50) scale(0.8873,1)" font-size="33.69" fill="#1a1a1a">Group 2</text>
<line x1="165" y1="225.6" x2="372" y2="225.6" stroke="#1a1a1a" stroke-width="4.2" stroke-dasharray="0 8.8" stroke-linecap="round"/>
<line x1="376.70" y1="128.80" x2="376.70" y2="287.20" stroke="#1a1a1a" stroke-width="4.4"/>
<rect x="397.60" y="128.40" width="31.40" height="32.60" fill="url(#hb)" stroke="none" stroke-width="0"/>
<clipPath id="dc31"><rect x="397.60" y="161.00" width="31.40" height="30.90"/></clipPath>
<rect x="397.60" y="161.00" width="31.40" height="30.90" fill="#fff"/>
<g clip-path="url(#dc31)" fill="#1a1a1a"><circle cx="405.90" cy="162.00" r="1.95"/><circle cx="412.70" cy="164.50" r="1.95"/><circle cx="401.60" cy="166.60" r="1.95"/><circle cx="410.20" cy="170.90" r="1.95"/><circle cx="403.70" cy="173.10" r="1.95"/><circle cx="415.00" cy="175.40" r="1.95"/><circle cx="419.50" cy="168.50" r="1.95"/><circle cx="417.60" cy="160.50" r="1.95"/><circle cx="405.90" cy="179.50" r="1.95"/><circle cx="412.70" cy="182.00" r="1.95"/><circle cx="401.60" cy="184.10" r="1.95"/><circle cx="410.20" cy="188.40" r="1.95"/><circle cx="403.70" cy="190.60" r="1.95"/><circle cx="415.00" cy="192.90" r="1.95"/><circle cx="419.50" cy="186.00" r="1.95"/><circle cx="417.60" cy="178.00" r="1.95"/></g>
<rect x="397.60" y="160.00" width="31.40" height="3.60" fill="#1a1a1a" stroke="none" stroke-width="0"/>
<rect x="397.60" y="191.90" width="31.40" height="34.20" fill="#1a1a1a" stroke="none" stroke-width="0"/>
<rect x="399.40" y="130.20" width="27.80" height="95.90" fill="none" stroke="#1a1a1a" stroke-width="3.6"/>
<rect x="399.40" y="226.10" width="27.80" height="29.40" fill="#fff" stroke="#3a3a3a" stroke-width="3.4"/>
<rect x="397.60" y="257.00" width="31.40" height="30.10" fill="#8a8a8a" stroke="none" stroke-width="0"/>
<line x1="376.70" y1="226.10" x2="451.50" y2="226.10" stroke="#1a1a1a" stroke-width="4.0" stroke-linecap="round"/>
<text transform="translate(476.55,152.50) scale(0.9501,1)" font-size="31.27" fill="#1a1a1a">Negative</text>
<text transform="translate(476.54,186.00) scale(0.9749,1)" font-size="30.55" fill="#1a1a1a">Borderline</text>
<text transform="translate(476.59,218.50) scale(0.9120,1)" font-size="32.00" fill="#1a1a1a">Positive</text>
<text transform="translate(476.54,251.00) scale(0.9523,1)" font-size="31.27" fill="#1a1a1a">Borderline</text>
<text transform="translate(476.55,284.00) scale(0.9501,1)" font-size="31.27" fill="#1a1a1a">Negative</text>
<text transform="translate(3.88,853.80) scale(0.8356,1)" font-size="32.97" fill="#1a1a1a">(</text>
<text transform="translate(15.14,854.50) scale(0.9030,1)" font-size="33.66" font-style="italic" fill="#1a1a1a">b</text>
<text transform="translate(30.59,853.80) scale(0.8356,1)" font-size="32.97" fill="#1a1a1a">)</text>
<rect x="145.70" y="1084.50" width="27.60" height="86.75" fill="url(#hb)" stroke="none" stroke-width="0"/>
<rect x="145.70" y="1171.25" width="27.60" height="31.25" fill="#1a1a1a" stroke="none" stroke-width="0"/>
<rect x="147.40" y="1086.20" width="24.20" height="116.30" fill="none" stroke="#1a1a1a" stroke-width="3.4"/>
<rect x="145.70" y="1252.50" width="27.60" height="108.75" fill="url(#hg)" stroke="none" stroke-width="0"/>
<rect x="147.40" y="1252.50" width="24.20" height="107.05" fill="none" stroke="#3c3c3c" stroke-width="3.4"/>
<rect x="147.40" y="1202.50" width="24.20" height="50.00" fill="#fff" stroke="#1a1a1a" stroke-width="3.4"/>
<rect x="180.60" y="1118.25" width="27.60" height="58.00" fill="url(#hb)" stroke="none" stroke-width="0"/>
<rect x="180.60" y="1176.25" width="27.60" height="26.25" fill="#1a1a1a" stroke="none" stroke-width="0"/>
<rect x="182.30" y="1119.95" width="24.20" height="82.55" fill="none" stroke="#1a1a1a" stroke-width="3.4"/>
<rect x="180.60" y="1226.25" width="27.60" height="72.50" fill="url(#hg)" stroke="none" stroke-width="0"/>
<rect x="182.30" y="1226.25" width="24.20" height="70.80" fill="none" stroke="#3c3c3c" stroke-width="3.4"/>
<rect x="182.30" y="1202.50" width="24.20" height="23.75" fill="#fff" stroke="#1a1a1a" stroke-width="3.4"/>
<rect x="215.51" y="1107.50" width="27.60" height="72.50" fill="url(#hb)" stroke="none" stroke-width="0"/>
<rect x="215.51" y="1180.00" width="27.60" height="22.50" fill="#1a1a1a" stroke="none" stroke-width="0"/>
<rect x="217.21" y="1109.20" width="24.20" height="93.30" fill="none" stroke="#1a1a1a" stroke-width="3.4"/>
<rect x="215.51" y="1225.00" width="27.60" height="93.75" fill="url(#hg)" stroke="none" stroke-width="0"/>
<rect x="217.21" y="1225.00" width="24.20" height="92.05" fill="none" stroke="#3c3c3c" stroke-width="3.4"/>
<rect x="217.21" y="1202.50" width="24.20" height="22.50" fill="#fff" stroke="#1a1a1a" stroke-width="3.4"/>
<rect x="250.41" y="1086.25" width="27.60" height="93.75" fill="url(#hb)" stroke="none" stroke-width="0"/>
<rect x="250.41" y="1180.00" width="27.60" height="22.50" fill="#1a1a1a" stroke="none" stroke-width="0"/>
<rect x="252.11" y="1087.95" width="24.20" height="114.55" fill="none" stroke="#1a1a1a" stroke-width="3.4"/>
<rect x="250.41" y="1218.00" width="27.60" height="77.50" fill="url(#hg)" stroke="none" stroke-width="0"/>
<rect x="252.11" y="1218.00" width="24.20" height="75.80" fill="none" stroke="#3c3c3c" stroke-width="3.4"/>
<rect x="252.11" y="1202.50" width="24.20" height="15.50" fill="#fff" stroke="#1a1a1a" stroke-width="3.4"/>
<rect x="285.32" y="1078.75" width="27.60" height="96.25" fill="url(#hb)" stroke="none" stroke-width="0"/>
<rect x="285.32" y="1175.00" width="27.60" height="27.50" fill="#1a1a1a" stroke="none" stroke-width="0"/>
<rect x="287.02" y="1080.45" width="24.20" height="122.05" fill="none" stroke="#1a1a1a" stroke-width="3.4"/>
<rect x="285.32" y="1220.50" width="27.60" height="134.00" fill="url(#hg)" stroke="none" stroke-width="0"/>
<rect x="287.02" y="1220.50" width="24.20" height="132.30" fill="none" stroke="#3c3c3c" stroke-width="3.4"/>
<rect x="287.02" y="1202.50" width="24.20" height="18.00" fill="#fff" stroke="#1a1a1a" stroke-width="3.4"/>
<rect x="320.23" y="1115.75" width="27.60" height="75.50" fill="url(#hb)" stroke="none" stroke-width="0"/>
<rect x="320.23" y="1191.25" width="27.60" height="11.25" fill="#1a1a1a" stroke="none" stroke-width="0"/>
<rect x="321.93" y="1117.45" width="24.20" height="85.05" fill="none" stroke="#1a1a1a" stroke-width="3.4"/>
<rect x="320.23" y="1231.25" width="27.60" height="102.50" fill="url(#hg)" stroke="none" stroke-width="0"/>
<rect x="321.93" y="1231.25" width="24.20" height="100.80" fill="none" stroke="#3c3c3c" stroke-width="3.4"/>
<rect x="321.93" y="1202.50" width="24.20" height="28.75" fill="#fff" stroke="#1a1a1a" stroke-width="3.4"/>
<rect x="355.13" y="1060.00" width="27.60" height="108.75" fill="url(#hb)" stroke="none" stroke-width="0"/>
<rect x="355.13" y="1168.75" width="27.60" height="33.75" fill="#1a1a1a" stroke="none" stroke-width="0"/>
<rect x="356.83" y="1061.70" width="24.20" height="140.80" fill="none" stroke="#1a1a1a" stroke-width="3.4"/>
<rect x="355.13" y="1241.25" width="27.60" height="179.25" fill="url(#hg)" stroke="none" stroke-width="0"/>
<rect x="356.83" y="1241.25" width="24.20" height="177.55" fill="none" stroke="#3c3c3c" stroke-width="3.4"/>
<rect x="356.83" y="1202.50" width="24.20" height="38.75" fill="#fff" stroke="#1a1a1a" stroke-width="3.4"/>
<rect x="390.03" y="1114.25" width="27.60" height="63.75" fill="url(#hb)" stroke="none" stroke-width="0"/>
<rect x="390.03" y="1178.00" width="27.60" height="24.50" fill="#1a1a1a" stroke="none" stroke-width="0"/>
<rect x="391.73" y="1115.95" width="24.20" height="86.55" fill="none" stroke="#1a1a1a" stroke-width="3.4"/>
<rect x="390.03" y="1212.50" width="27.60" height="95.75" fill="url(#hg)" stroke="none" stroke-width="0"/>
<rect x="391.73" y="1212.50" width="24.20" height="94.05" fill="none" stroke="#3c3c3c" stroke-width="3.4"/>
<rect x="391.73" y="1202.50" width="24.20" height="10.00" fill="#fff" stroke="#1a1a1a" stroke-width="3.4"/>
<rect x="424.94" y="1110.75" width="27.60" height="70.50" fill="url(#hb)" stroke="none" stroke-width="0"/>
<rect x="424.94" y="1181.25" width="27.60" height="21.25" fill="#1a1a1a" stroke="none" stroke-width="0"/>
<rect x="426.64" y="1112.45" width="24.20" height="90.05" fill="none" stroke="#1a1a1a" stroke-width="3.4"/>
<rect x="424.94" y="1252.50" width="27.60" height="150.50" fill="url(#hg)" stroke="none" stroke-width="0"/>
<rect x="426.64" y="1252.50" width="24.20" height="148.80" fill="none" stroke="#3c3c3c" stroke-width="3.4"/>
<rect x="426.64" y="1202.50" width="24.20" height="50.00" fill="#fff" stroke="#1a1a1a" stroke-width="3.4"/>
<rect x="459.84" y="1111.25" width="27.60" height="60.50" fill="url(#hb)" stroke="none" stroke-width="0"/>
<rect x="459.84" y="1171.75" width="27.60" height="30.75" fill="#1a1a1a" stroke="none" stroke-width="0"/>
<rect x="461.54" y="1112.95" width="24.20" height="89.55" fill="none" stroke="#1a1a1a" stroke-width="3.4"/>
<rect x="459.84" y="1237.50" width="27.60" height="123.75" fill="url(#hg)" stroke="none" stroke-width="0"/>
<rect x="461.54" y="1237.50" width="24.20" height="122.05" fill="none" stroke="#3c3c3c" stroke-width="3.4"/>
<rect x="461.54" y="1202.50" width="24.20" height="35.00" fill="#fff" stroke="#1a1a1a" stroke-width="3.4"/>
<rect x="494.75" y="1108.75" width="27.60" height="73.75" fill="url(#hb)" stroke="none" stroke-width="0"/>
<rect x="494.75" y="1182.50" width="27.60" height="20.00" fill="#1a1a1a" stroke="none" stroke-width="0"/>
<rect x="496.45" y="1110.45" width="24.20" height="92.05" fill="none" stroke="#1a1a1a" stroke-width="3.4"/>
<rect x="494.75" y="1247.50" width="27.60" height="96.25" fill="url(#hg)" stroke="none" stroke-width="0"/>
<rect x="496.45" y="1247.50" width="24.20" height="94.55" fill="none" stroke="#3c3c3c" stroke-width="3.4"/>
<rect x="496.45" y="1202.50" width="24.20" height="45.00" fill="#fff" stroke="#1a1a1a" stroke-width="3.4"/>
<rect x="529.65" y="1145.00" width="27.60" height="38.75" fill="url(#hb)" stroke="none" stroke-width="0"/>
<rect x="529.65" y="1183.75" width="27.60" height="18.75" fill="#1a1a1a" stroke="none" stroke-width="0"/>
<rect x="531.36" y="1146.70" width="24.20" height="55.80" fill="none" stroke="#1a1a1a" stroke-width="3.4"/>
<rect x="529.65" y="1225.00" width="27.60" height="68.75" fill="url(#hg)" stroke="none" stroke-width="0"/>
<rect x="531.36" y="1225.00" width="24.20" height="67.05" fill="none" stroke="#3c3c3c" stroke-width="3.4"/>
<rect x="531.36" y="1202.50" width="24.20" height="22.50" fill="#fff" stroke="#1a1a1a" stroke-width="3.4"/>
<rect x="564.56" y="1125.50" width="27.60" height="51.50" fill="url(#hb)" stroke="none" stroke-width="0"/>
<rect x="564.56" y="1177.00" width="27.60" height="25.50" fill="#1a1a1a" stroke="none" stroke-width="0"/>
<rect x="566.26" y="1127.20" width="24.20" height="75.30" fill="none" stroke="#1a1a1a" stroke-width="3.4"/>
<rect x="564.56" y="1233.75" width="27.60" height="111.25" fill="url(#hg)" stroke="none" stroke-width="0"/>
<rect x="566.26" y="1233.75" width="24.20" height="109.55" fill="none" stroke="#3c3c3c" stroke-width="3.4"/>
<rect x="566.26" y="1202.50" width="24.20" height="31.25" fill="#fff" stroke="#1a1a1a" stroke-width="3.4"/>
<rect x="599.46" y="1113.75" width="27.60" height="67.50" fill="url(#hb)" stroke="none" stroke-width="0"/>
<rect x="599.46" y="1181.25" width="27.60" height="21.25" fill="#1a1a1a" stroke="none" stroke-width="0"/>
<rect x="601.16" y="1115.45" width="24.20" height="87.05" fill="none" stroke="#1a1a1a" stroke-width="3.4"/>
<rect x="599.46" y="1232.50" width="27.60" height="79.50" fill="url(#hg)" stroke="none" stroke-width="0"/>
<rect x="601.16" y="1232.50" width="24.20" height="77.80" fill="none" stroke="#3c3c3c" stroke-width="3.4"/>
<rect x="601.16" y="1202.50" width="24.20" height="30.00" fill="#fff" stroke="#1a1a1a" stroke-width="3.4"/>
<rect x="634.37" y="1128.00" width="27.60" height="50.75" fill="url(#hb)" stroke="none" stroke-width="0"/>
<rect x="634.37" y="1178.75" width="27.60" height="23.75" fill="#1a1a1a" stroke="none" stroke-width="0"/>
<rect x="636.07" y="1129.70" width="24.20" height="72.80" fill="none" stroke="#1a1a1a" stroke-width="3.4"/>
<rect x="634.37" y="1225.00" width="27.60" height="105.75" fill="url(#hg)" stroke="none" stroke-width="0"/>
<rect x="636.07" y="1225.00" width="24.20" height="104.05" fill="none" stroke="#3c3c3c" stroke-width="3.4"/>
<rect x="636.07" y="1202.50" width="24.20" height="22.50" fill="#fff" stroke="#1a1a1a" stroke-width="3.4"/>
<rect x="669.28" y="1102.50" width="27.60" height="77.50" fill="url(#hb)" stroke="none" stroke-width="0"/>
<rect x="669.28" y="1180.00" width="27.60" height="22.50" fill="#1a1a1a" stroke="none" stroke-width="0"/>
<rect x="670.98" y="1104.20" width="24.20" height="98.30" fill="none" stroke="#1a1a1a" stroke-width="3.4"/>
<rect x="669.28" y="1225.00" width="27.60" height="91.25" fill="url(#hg)" stroke="none" stroke-width="0"/>
<rect x="670.98" y="1225.00" width="24.20" height="89.55" fill="none" stroke="#3c3c3c" stroke-width="3.4"/>
<rect x="670.98" y="1202.50" width="24.20" height="22.50" fill="#fff" stroke="#1a1a1a" stroke-width="3.4"/>
<rect x="704.18" y="1118.00" width="27.60" height="52.00" fill="url(#hb)" stroke="none" stroke-width="0"/>
<rect x="704.18" y="1170.00" width="27.60" height="32.50" fill="#1a1a1a" stroke="none" stroke-width="0"/>
<rect x="705.88" y="1119.70" width="24.20" height="82.80" fill="none" stroke="#1a1a1a" stroke-width="3.4"/>
<rect x="704.18" y="1228.75" width="27.60" height="73.25" fill="url(#hg)" stroke="none" stroke-width="0"/>
<rect x="705.88" y="1228.75" width="24.20" height="71.55" fill="none" stroke="#3c3c3c" stroke-width="3.4"/>
<rect x="705.88" y="1202.50" width="24.20" height="26.25" fill="#fff" stroke="#1a1a1a" stroke-width="3.4"/>
<rect x="739.09" y="1078.75" width="27.60" height="87.00" fill="url(#hb)" stroke="none" stroke-width="0"/>
<rect x="739.09" y="1165.75" width="27.60" height="36.75" fill="#1a1a1a" stroke="none" stroke-width="0"/>
<rect x="740.79" y="1080.45" width="24.20" height="122.05" fill="none" stroke="#1a1a1a" stroke-width="3.4"/>
<rect x="739.09" y="1226.25" width="27.60" height="102.50" fill="url(#hg)" stroke="none" stroke-width="0"/>
<rect x="740.79" y="1226.25" width="24.20" height="100.80" fill="none" stroke="#3c3c3c" stroke-width="3.4"/>
<rect x="740.79" y="1202.50" width="24.20" height="23.75" fill="#fff" stroke="#1a1a1a" stroke-width="3.4"/>
<rect x="773.99" y="1075.50" width="27.60" height="93.25" fill="url(#hb)" stroke="none" stroke-width="0"/>
<rect x="773.99" y="1168.75" width="27.60" height="33.75" fill="#1a1a1a" stroke="none" stroke-width="0"/>
<rect x="775.69" y="1077.20" width="24.20" height="125.30" fill="none" stroke="#1a1a1a" stroke-width="3.4"/>
<rect x="773.99" y="1233.75" width="27.60" height="63.75" fill="url(#hg)" stroke="none" stroke-width="0"/>
<rect x="775.69" y="1233.75" width="24.20" height="62.05" fill="none" stroke="#3c3c3c" stroke-width="3.4"/>
<rect x="775.69" y="1202.50" width="24.20" height="31.25" fill="#fff" stroke="#1a1a1a" stroke-width="3.4"/>
<rect x="808.89" y="1019.90" width="27.60" height="114.30" fill="url(#hb)" stroke="none" stroke-width="0"/>
<rect x="808.89" y="1134.20" width="27.60" height="68.30" fill="#1a1a1a" stroke="none" stroke-width="0"/>
<rect x="810.60" y="1021.60" width="24.20" height="180.90" fill="none" stroke="#1a1a1a" stroke-width="3.4"/>
<rect x="808.89" y="1224.50" width="27.60" height="110.70" fill="url(#hg)" stroke="none" stroke-width="0"/>
<rect x="810.60" y="1224.50" width="24.20" height="109.00" fill="none" stroke="#3c3c3c" stroke-width="3.4"/>
<rect x="810.60" y="1202.50" width="24.20" height="22.00" fill="#fff" stroke="#1a1a1a" stroke-width="3.4"/>
<rect x="843.80" y="967.30" width="27.60" height="126.40" fill="url(#hb)" stroke="none" stroke-width="0"/>
<rect x="843.80" y="1093.70" width="27.60" height="108.80" fill="#1a1a1a" stroke="none" stroke-width="0"/>
<rect x="845.50" y="969.00" width="24.20" height="233.50" fill="none" stroke="#1a1a1a" stroke-width="3.4"/>
<rect x="843.80" y="1252.30" width="27.60" height="172.30" fill="url(#hg)" stroke="none" stroke-width="0"/>
<rect x="845.50" y="1252.30" width="24.20" height="170.60" fill="none" stroke="#3c3c3c" stroke-width="3.4"/>
<rect x="845.50" y="1202.50" width="24.20" height="49.80" fill="#fff" stroke="#1a1a1a" stroke-width="3.4"/>
<rect x="878.70" y="986.70" width="27.60" height="129.80" fill="url(#hb)" stroke="none" stroke-width="0"/>
<rect x="878.70" y="1116.50" width="27.60" height="86.00" fill="#1a1a1a" stroke="none" stroke-width="0"/>
<rect x="880.40" y="988.40" width="24.20" height="214.10" fill="none" stroke="#1a1a1a" stroke-width="3.4"/>
<rect x="878.70" y="1236.10" width="27.60" height="112.30" fill="url(#hg)" stroke="none" stroke-width="0"/>
<rect x="880.40" y="1236.10" width="24.20" height="110.60" fill="none" stroke="#3c3c3c" stroke-width="3.4"/>
<rect x="880.40" y="1202.50" width="24.20" height="33.60" fill="#fff" stroke="#1a1a1a" stroke-width="3.4"/>
<rect x="913.61" y="972.30" width="27.60" height="136.60" fill="url(#hb)" stroke="none" stroke-width="0"/>
<rect x="913.61" y="1108.90" width="27.60" height="93.60" fill="#1a1a1a" stroke="none" stroke-width="0"/>
<rect x="915.31" y="974.00" width="24.20" height="228.50" fill="none" stroke="#1a1a1a" stroke-width="3.4"/>
<rect x="913.61" y="1231.50" width="27.60" height="121.40" fill="url(#hg)" stroke="none" stroke-width="0"/>
<rect x="915.31" y="1231.50" width="24.20" height="119.70" fill="none" stroke="#3c3c3c" stroke-width="3.4"/>
<rect x="915.31" y="1202.50" width="24.20" height="29.00" fill="#fff" stroke="#1a1a1a" stroke-width="3.4"/>
<rect x="948.52" y="966.50" width="27.60" height="134.80" fill="url(#hb)" stroke="none" stroke-width="0"/>
<rect x="948.52" y="1101.30" width="27.60" height="101.20" fill="#1a1a1a" stroke="none" stroke-width="0"/>
<rect x="950.22" y="968.20" width="24.20" height="234.30" fill="none" stroke="#1a1a1a" stroke-width="3.4"/>
<rect x="948.52" y="1218.90" width="27.60" height="86.00" fill="url(#hg)" stroke="none" stroke-width="0"/>
<rect x="950.22" y="1218.90" width="24.20" height="84.30" fill="none" stroke="#3c3c3c" stroke-width="3.4"/>
<rect x="950.22" y="1202.50" width="24.20" height="16.40" fill="#fff" stroke="#1a1a1a" stroke-width="3.4"/>
<rect x="983.42" y="981.20" width="27.60" height="123.40" fill="url(#hb)" stroke="none" stroke-width="0"/>
<rect x="983.42" y="1104.60" width="27.60" height="97.90" fill="#1a1a1a" stroke="none" stroke-width="0"/>
<rect x="985.12" y="982.90" width="24.20" height="219.60" fill="none" stroke="#1a1a1a" stroke-width="3.4"/>
<rect x="983.42" y="1234.10" width="27.60" height="114.30" fill="url(#hg)" stroke="none" stroke-width="0"/>
<rect x="985.12" y="1234.10" width="24.20" height="112.60" fill="none" stroke="#3c3c3c" stroke-width="3.4"/>
<rect x="985.12" y="1202.50" width="24.20" height="31.60" fill="#fff" stroke="#1a1a1a" stroke-width="3.4"/>
<rect x="1018.33" y="957.10" width="27.60" height="167.00" fill="url(#hb)" stroke="none" stroke-width="0"/>
<rect x="1018.33" y="1124.10" width="27.60" height="78.40" fill="#1a1a1a" stroke="none" stroke-width="0"/>
<rect x="1020.03" y="958.80" width="24.20" height="243.70" fill="none" stroke="#1a1a1a" stroke-width="3.4"/>
<rect x="1018.33" y="1229.50" width="27.60" height="101.90" fill="url(#hg)" stroke="none" stroke-width="0"/>
<rect x="1020.03" y="1229.50" width="24.20" height="100.20" fill="none" stroke="#3c3c3c" stroke-width="3.4"/>
<rect x="1020.03" y="1202.50" width="24.20" height="27.00" fill="#fff" stroke="#1a1a1a" stroke-width="3.4"/>
<rect x="1053.23" y="970.30" width="27.60" height="148.70" fill="url(#hb)" stroke="none" stroke-width="0"/>
<rect x="1053.23" y="1119.00" width="27.60" height="83.50" fill="#1a1a1a" stroke="none" stroke-width="0"/>
<rect x="1054.93" y="972.00" width="24.20" height="230.50" fill="none" stroke="#1a1a1a" stroke-width="3.4"/>
<rect x="1053.23" y="1235.30" width="27.60" height="116.40" fill="url(#hg)" stroke="none" stroke-width="0"/>
<rect x="1054.93" y="1235.30" width="24.20" height="114.70" fill="none" stroke="#3c3c3c" stroke-width="3.4"/>
<rect x="1054.93" y="1202.50" width="24.20" height="32.80" fill="#fff" stroke="#1a1a1a" stroke-width="3.4"/>
<rect x="1088.13" y="1021.10" width="27.60" height="113.10" fill="url(#hb)" stroke="none" stroke-width="0"/>
<rect x="1088.13" y="1134.20" width="27.60" height="68.30" fill="#1a1a1a" stroke="none" stroke-width="0"/>
<rect x="1089.84" y="1022.80" width="24.20" height="179.70" fill="none" stroke="#1a1a1a" stroke-width="3.4"/>
<rect x="1088.13" y="1227.70" width="27.60" height="91.50" fill="url(#hg)" stroke="none" stroke-width="0"/>
<rect x="1089.84" y="1227.70" width="24.20" height="89.80" fill="none" stroke="#3c3c3c" stroke-width="3.4"/>
<rect x="1089.84" y="1202.50" width="24.20" height="25.20" fill="#fff" stroke="#1a1a1a" stroke-width="3.4"/>
<rect x="1123.04" y="903.30" width="27.60" height="217.70" fill="url(#hb)" stroke="none" stroke-width="0"/>
<rect x="1123.04" y="1121.00" width="27.60" height="81.50" fill="#1a1a1a" stroke="none" stroke-width="0"/>
<rect x="1124.74" y="905.00" width="24.20" height="297.50" fill="none" stroke="#1a1a1a" stroke-width="3.4"/>
<rect x="1123.04" y="1231.20" width="27.60" height="106.30" fill="url(#hg)" stroke="none" stroke-width="0"/>
<rect x="1124.74" y="1231.20" width="24.20" height="104.60" fill="none" stroke="#3c3c3c" stroke-width="3.4"/>
<rect x="1124.74" y="1202.50" width="24.20" height="28.70" fill="#fff" stroke="#1a1a1a" stroke-width="3.4"/>
<rect x="1157.94" y="1066.20" width="27.60" height="92.40" fill="url(#hb)" stroke="none" stroke-width="0"/>
<rect x="1157.94" y="1158.60" width="27.60" height="43.90" fill="#1a1a1a" stroke="none" stroke-width="0"/>
<rect x="1159.64" y="1067.90" width="24.20" height="134.60" fill="none" stroke="#1a1a1a" stroke-width="3.4"/>
<rect x="1157.94" y="1231.10" width="27.60" height="124.20" fill="url(#hg)" stroke="none" stroke-width="0"/>
<rect x="1159.64" y="1231.10" width="24.20" height="122.50" fill="none" stroke="#3c3c3c" stroke-width="3.4"/>
<rect x="1159.64" y="1202.50" width="24.20" height="28.60" fill="#fff" stroke="#1a1a1a" stroke-width="3.4"/>
<rect x="1192.85" y="1003.90" width="27.60" height="153.70" fill="url(#hb)" stroke="none" stroke-width="0"/>
<rect x="1192.85" y="1157.60" width="27.60" height="44.90" fill="#1a1a1a" stroke="none" stroke-width="0"/>
<rect x="1194.55" y="1005.60" width="24.20" height="196.90" fill="none" stroke="#1a1a1a" stroke-width="3.4"/>
<rect x="1192.85" y="1246.00" width="27.60" height="135.60" fill="url(#hg)" stroke="none" stroke-width="0"/>
<rect x="1194.55" y="1246.00" width="24.20" height="133.90" fill="none" stroke="#3c3c3c" stroke-width="3.4"/>
<rect x="1194.55" y="1202.50" width="24.20" height="43.50" fill="#fff" stroke="#1a1a1a" stroke-width="3.4"/>
<rect x="1227.76" y="1069.70" width="27.60" height="97.30" fill="url(#hb)" stroke="none" stroke-width="0"/>
<rect x="1227.76" y="1167.00" width="27.60" height="35.50" fill="#1a1a1a" stroke="none" stroke-width="0"/>
<rect x="1229.46" y="1071.40" width="24.20" height="131.10" fill="none" stroke="#1a1a1a" stroke-width="3.4"/>
<rect x="1227.76" y="1220.70" width="27.60" height="92.20" fill="url(#hg)" stroke="none" stroke-width="0"/>
<rect x="1229.46" y="1220.70" width="24.20" height="90.50" fill="none" stroke="#3c3c3c" stroke-width="3.4"/>
<rect x="1229.46" y="1202.50" width="24.20" height="18.20" fill="#fff" stroke="#1a1a1a" stroke-width="3.4"/>
<rect x="1262.66" y="1049.60" width="27.60" height="128.80" fill="url(#hb)" stroke="none" stroke-width="0"/>
<rect x="1262.66" y="1178.40" width="27.60" height="24.10" fill="#1a1a1a" stroke="none" stroke-width="0"/>
<rect x="1264.36" y="1051.30" width="24.20" height="151.20" fill="none" stroke="#1a1a1a" stroke-width="3.4"/>
<rect x="1262.66" y="1242.50" width="27.60" height="150.10" fill="url(#hg)" stroke="none" stroke-width="0"/>
<rect x="1264.36" y="1242.50" width="24.20" height="148.40" fill="none" stroke="#3c3c3c" stroke-width="3.4"/>
<rect x="1264.36" y="1202.50" width="24.20" height="40.00" fill="#fff" stroke="#1a1a1a" stroke-width="3.4"/>
<rect x="1297.57" y="1073.90" width="27.60" height="101.40" fill="url(#hb)" stroke="none" stroke-width="0"/>
<rect x="1297.57" y="1175.30" width="27.60" height="27.20" fill="#1a1a1a" stroke="none" stroke-width="0"/>
<rect x="1299.27" y="1075.60" width="24.20" height="126.90" fill="none" stroke="#1a1a1a" stroke-width="3.4"/>
<rect x="1297.57" y="1242.50" width="27.60" height="158.80" fill="url(#hg)" stroke="none" stroke-width="0"/>
<rect x="1299.27" y="1242.50" width="24.20" height="157.10" fill="none" stroke="#3c3c3c" stroke-width="3.4"/>
<rect x="1299.27" y="1202.50" width="24.20" height="40.00" fill="#fff" stroke="#1a1a1a" stroke-width="3.4"/>
<rect x="1332.47" y="1029.90" width="27.60" height="132.90" fill="url(#hb)" stroke="none" stroke-width="0"/>
<rect x="1332.47" y="1162.80" width="27.60" height="39.70" fill="#1a1a1a" stroke="none" stroke-width="0"/>
<rect x="1334.17" y="1031.60" width="24.20" height="170.90" fill="none" stroke="#1a1a1a" stroke-width="3.4"/>
<rect x="1332.47" y="1250.30" width="27.60" height="157.90" fill="url(#hg)" stroke="none" stroke-width="0"/>
<rect x="1334.17" y="1250.30" width="24.20" height="156.20" fill="none" stroke="#3c3c3c" stroke-width="3.4"/>
<rect x="1334.17" y="1202.50" width="24.20" height="47.80" fill="#fff" stroke="#1a1a1a" stroke-width="3.4"/>
<rect x="1367.38" y="1084.90" width="27.60" height="85.20" fill="url(#hb)" stroke="none" stroke-width="0"/>
<rect x="1367.38" y="1170.10" width="27.60" height="32.40" fill="#1a1a1a" stroke="none" stroke-width="0"/>
<rect x="1369.08" y="1086.60" width="24.20" height="115.90" fill="none" stroke="#1a1a1a" stroke-width="3.4"/>
<rect x="1367.38" y="1224.90" width="27.60" height="101.00" fill="url(#hg)" stroke="none" stroke-width="0"/>
<rect x="1369.08" y="1224.90" width="24.20" height="99.30" fill="none" stroke="#3c3c3c" stroke-width="3.4"/>
<rect x="1369.08" y="1202.50" width="24.20" height="22.40" fill="#fff" stroke="#1a1a1a" stroke-width="3.4"/>
<line x1="142.00" y1="1202.50" x2="1396.00" y2="1202.50" stroke="#1a1a1a" stroke-width="2.8" stroke-linecap="round"/>
<line x1="142.30" y1="889.40" x2="142.30" y2="1482.50" stroke="#262626" stroke-width="2.2"/>
<line x1="126.50" y1="889.40" x2="142.30" y2="889.40" stroke="#262626" stroke-width="2.2"/>
<line x1="126.50" y1="1045.20" x2="142.30" y2="1045.20" stroke="#262626" stroke-width="2.2"/>
<line x1="126.50" y1="1201.10" x2="142.30" y2="1201.10" stroke="#262626" stroke-width="2.2"/>
<line x1="126.50" y1="1358.00" x2="142.30" y2="1358.00" stroke="#262626" stroke-width="2.2"/>
<line x1="126.50" y1="1482.00" x2="142.30" y2="1482.00" stroke="#262626" stroke-width="2.2"/>
<text transform="translate(61.70,900.80) scale(0.9708,1)" font-size="30.97" fill="#1a1a1a">200</text>
<text transform="translate(62.80,1056.60) scale(0.9490,1)" font-size="30.97" fill="#1a1a1a">100</text>
<text transform="translate(94.74,1212.60) scale(1.0212,1)" font-size="30.97" fill="#1a1a1a">0</text>
<text transform="translate(62.80,1369.10) scale(0.9490,1)" font-size="30.97" fill="#1a1a1a">100</text>
<text transform="translate(61.70,1493.10) scale(0.9708,1)" font-size="30.97" fill="#1a1a1a">200</text>
<text transform="translate(32.10,1311.95) rotate(-90) scale(0.8833,1)" font-size="33.60" fill="#1a1a1a">Number of patients</text>
<line x1="142.30" y1="1482.50" x2="1396.00" y2="1482.50" stroke="#262626" stroke-width="2.2"/>
<line x1="146.60" y1="1482.50" x2="146.60" y2="1497.30" stroke="#262626" stroke-width="2.2"/>
<line x1="181.28" y1="1482.50" x2="181.28" y2="1497.30" stroke="#262626" stroke-width="2.2"/>
<line x1="215.96" y1="1482.50" x2="215.96" y2="1497.30" stroke="#262626" stroke-width="2.2"/>
<line x1="250.64" y1="1482.50" x2="250.64" y2="1497.30" stroke="#262626" stroke-width="2.2"/>
<line x1="285.32" y1="1482.50" x2="285.32" y2="1497.30" stroke="#262626" stroke-width="2.2"/>
<line x1="320.00" y1="1482.50" x2="320.00" y2="1497.30" stroke="#262626" stroke-width="2.2"/>
<line x1="354.68" y1="1482.50" x2="354.68" y2="1497.30" stroke="#262626" stroke-width="2.2"/>
<line x1="389.36" y1="1482.50" x2="389.36" y2="1497.30" stroke="#262626" stroke-width="2.2"/>
<line x1="424.04" y1="1482.50" x2="424.04" y2="1497.30" stroke="#262626" stroke-width="2.2"/>
<line x1="458.72" y1="1482.50" x2="458.72" y2="1497.30" stroke="#262626" stroke-width="2.2"/>
<line x1="493.40" y1="1482.50" x2="493.40" y2="1497.30" stroke="#262626" stroke-width="2.2"/>
<line x1="528.08" y1="1482.50" x2="528.08" y2="1497.30" stroke="#262626" stroke-width="2.2"/>
<line x1="562.76" y1="1482.50" x2="562.76" y2="1497.30" stroke="#262626" stroke-width="2.2"/>
<line x1="597.44" y1="1482.50" x2="597.44" y2="1497.30" stroke="#262626" stroke-width="2.2"/>
<line x1="632.12" y1="1482.50" x2="632.12" y2="1497.30" stroke="#262626" stroke-width="2.2"/>
<line x1="666.80" y1="1482.50" x2="666.80" y2="1497.30" stroke="#262626" stroke-width="2.2"/>
<line x1="701.48" y1="1482.50" x2="701.48" y2="1497.30" stroke="#262626" stroke-width="2.2"/>
<line x1="736.16" y1="1482.50" x2="736.16" y2="1497.30" stroke="#262626" stroke-width="2.2"/>
<line x1="770.84" y1="1482.50" x2="770.84" y2="1497.30" stroke="#262626" stroke-width="2.2"/>
<line x1="805.52" y1="1482.50" x2="805.52" y2="1497.30" stroke="#262626" stroke-width="2.2"/>
<line x1="840.20" y1="1482.50" x2="840.20" y2="1497.30" stroke="#262626" stroke-width="2.2"/>
<line x1="874.88" y1="1482.50" x2="874.88" y2="1497.30" stroke="#262626" stroke-width="2.2"/>
<line x1="909.56" y1="1482.50" x2="909.56" y2="1497.30" stroke="#262626" stroke-width="2.2"/>
<line x1="944.24" y1="1482.50" x2="944.24" y2="1497.30" stroke="#262626" stroke-width="2.2"/>
<line x1="978.92" y1="1482.50" x2="978.92" y2="1497.30" stroke="#262626" stroke-width="2.2"/>
<line x1="1013.60" y1="1482.50" x2="1013.60" y2="1497.30" stroke="#262626" stroke-width="2.2"/>
<line x1="1048.28" y1="1482.50" x2="1048.28" y2="1497.30" stroke="#262626" stroke-width="2.2"/>
<line x1="1082.96" y1="1482.50" x2="1082.96" y2="1497.30" stroke="#262626" stroke-width="2.2"/>
<line x1="1117.64" y1="1482.50" x2="1117.64" y2="1497.30" stroke="#262626" stroke-width="2.2"/>
<line x1="1152.32" y1="1482.50" x2="1152.32" y2="1497.30" stroke="#262626" stroke-width="2.2"/>
<line x1="1187.00" y1="1482.50" x2="1187.00" y2="1497.30" stroke="#262626" stroke-width="2.2"/>
<line x1="1221.68" y1="1482.50" x2="1221.68" y2="1497.30" stroke="#262626" stroke-width="2.2"/>
<line x1="1256.36" y1="1482.50" x2="1256.36" y2="1497.30" stroke="#262626" stroke-width="2.2"/>
<line x1="1291.04" y1="1482.50" x2="1291.04" y2="1497.30" stroke="#262626" stroke-width="2.2"/>
<line x1="1325.72" y1="1482.50" x2="1325.72" y2="1497.30" stroke="#262626" stroke-width="2.2"/>
<line x1="1360.40" y1="1482.50" x2="1360.40" y2="1497.30" stroke="#262626" stroke-width="2.2"/>
<line x1="1395.08" y1="1482.50" x2="1395.08" y2="1497.30" stroke="#262626" stroke-width="2.2"/>
<text transform="translate(138.75,1532.00) scale(0.8642,1)" font-size="34.62" fill="#1a1a1a">Jan.</text>
<text transform="translate(245.12,1532.00) scale(0.8675,1)" font-size="34.62" fill="#1a1a1a">Apr.</text>
<text transform="translate(348.27,1532.00) scale(0.8371,1)" font-size="34.62" fill="#1a1a1a">July</text>
<text transform="translate(451.64,1532.00) scale(0.8896,1)" font-size="34.62" fill="#1a1a1a">Oct.</text>
<text transform="translate(556.45,1532.00) scale(0.8642,1)" font-size="34.62" fill="#1a1a1a">Jan.</text>
<text transform="translate(662.82,1532.00) scale(0.8675,1)" font-size="34.62" fill="#1a1a1a">Apr.</text>
<text transform="translate(765.97,1532.00) scale(0.8371,1)" font-size="34.62" fill="#1a1a1a">July</text>
<text transform="translate(869.64,1532.00) scale(0.8896,1)" font-size="34.62" fill="#1a1a1a">Oct.</text>
<text transform="translate(973.95,1532.00) scale(0.8642,1)" font-size="34.62" fill="#1a1a1a">Jan.</text>
<text transform="translate(1080.32,1532.00) scale(0.8675,1)" font-size="34.62" fill="#1a1a1a">Apr.</text>
<text transform="translate(1183.17,1532.00) scale(0.8371,1)" font-size="34.62" fill="#1a1a1a">July</text>
<text transform="translate(1287.14,1532.00) scale(0.8896,1)" font-size="34.62" fill="#1a1a1a">Oct.</text>
<text transform="translate(173.15,1450.50) scale(0.9410,1)" font-size="32.73" fill="#1a1a1a">IgG</text>
<rect x="155.60" y="886.70" width="503.90" height="139.30" fill="#fff" stroke="#2a2a2a" stroke-width="1.8"/>
<text transform="translate(168.95,935.70) scale(0.8817,1)" font-size="32.97" fill="#1a1a1a">Group 1</text>
<text transform="translate(168.92,1003.70) scale(0.8826,1)" font-size="33.55" fill="#1a1a1a">Group 2</text>
<line x1="159" y1="961" x2="368" y2="961" stroke="#1a1a1a" stroke-width="4.2" stroke-dasharray="0 8.8" stroke-linecap="round"/>
<line x1="372.10" y1="896.70" x2="372.10" y2="1025.60" stroke="#1a1a1a" stroke-width="4.4"/>
<rect x="395.20" y="896.70" width="29.70" height="31.60" fill="url(#hb)" stroke="none" stroke-width="0"/>
<rect x="395.20" y="928.30" width="29.70" height="31.70" fill="#1a1a1a" stroke="none" stroke-width="0"/>
<rect x="396.95" y="898.45" width="26.20" height="61.55" fill="none" stroke="#1a1a1a" stroke-width="3.5"/>
<rect x="395.20" y="991.40" width="29.70" height="32.70" fill="url(#hg)" stroke="none" stroke-width="0"/>
<rect x="396.95" y="991.40" width="26.20" height="30.95" fill="none" stroke="#3c3c3c" stroke-width="3.5"/>
<rect x="396.95" y="960.00" width="26.20" height="31.40" fill="#fff" stroke="#1a1a1a" stroke-width="3.5"/>
<line x1="372.10" y1="960.00" x2="447.40" y2="960.00" stroke="#1a1a1a" stroke-width="4.0" stroke-linecap="round"/>
<path d="M450.5,929.5 C458,929.5 460,931.5 460,937 L460,955 C460,959 463,962 474.5,962 C463,962 460,965 460,969 L460,988 C460,993.5 458,995.8 450.5,995.8" fill="none" stroke="#1a1a1a" stroke-width="4" stroke-linecap="round"/>
<text transform="translate(484.50,925.30) scale(0.9134,1)" font-size="32.83" fill="#1a1a1a">&lt; 2500 U/ml</text>
<text transform="translate(484.50,969.70) scale(0.9251,1)" font-size="32.41" fill="#1a1a1a">&gt; 2500 U/ml</text>
<text transform="translate(484.50,1012.90) scale(0.9251,1)" font-size="32.41" fill="#1a1a1a">&lt; 2500 U/ml</text>
<text transform="translate(3.98,1620.90) scale(0.8356,1)" font-size="32.97" fill="#1a1a1a">(</text>
<text transform="translate(13.51,1621.90) scale(0.9189,1)" font-size="33.30" font-style="italic" fill="#1a1a1a">c</text>
<text transform="translate(29.79,1620.90) scale(0.8356,1)" font-size="32.97" fill="#1a1a1a">)</text>
<clipPath id="plotc"><rect x="0" y="1600" width="1400" height="558.0"/></clipPath>
<g clip-path="url(#plotc)">
<circle cx="143.6" cy="2096.0" r="6.1" fill="#c2c2c2" stroke="#3e3e3e" stroke-width="2.8"/>
<circle cx="143.6" cy="2107.1" r="6.1" fill="#c2c2c2" stroke="#3e3e3e" stroke-width="2.8"/>
<circle cx="143.6" cy="2119.7" r="6.1" fill="#c2c2c2" stroke="#3e3e3e" stroke-width="2.8"/>
<circle cx="143.6" cy="2131.1" r="6.1" fill="#c2c2c2" stroke="#3e3e3e" stroke-width="2.8"/>
<circle cx="143.6" cy="2146.9" r="6.1" fill="#c2c2c2" stroke="#3e3e3e" stroke-width="2.8"/>
<circle cx="160.0" cy="2122.9" r="6.1" fill="#c2c2c2" stroke="#3e3e3e" stroke-width="2.8"/>
<circle cx="159.3" cy="2136.4" r="6.1" fill="#c2c2c2" stroke="#3e3e3e" stroke-width="2.8"/>
<circle cx="174.6" cy="2109.3" r="6.1" fill="#c2c2c2" stroke="#3e3e3e" stroke-width="2.8"/>
<circle cx="180.7" cy="2124.3" r="6.1" fill="#c2c2c2" stroke="#3e3e3e" stroke-width="2.8"/>
<circle cx="180.7" cy="2136.9" r="6.1" fill="#c2c2c2" stroke="#3e3e3e" stroke-width="2.8"/>
<circle cx="180.7" cy="2149.7" r="6.1" fill="#c2c2c2" stroke="#3e3e3e" stroke-width="2.8"/>
<circle cx="193.9" cy="2113.1" r="6.1" fill="#c2c2c2" stroke="#3e3e3e" stroke-width="2.8"/>
<circle cx="215.7" cy="2091.7" r="6.1" fill="#c2c2c2" stroke="#3e3e3e" stroke-width="2.8"/>
<circle cx="215.7" cy="2105.4" r="6.1" fill="#c2c2c2" stroke="#3e3e3e" stroke-width="2.8"/>
<circle cx="215.7" cy="2118.6" r="6.1" fill="#c2c2c2" stroke="#3e3e3e" stroke-width="2.8"/>
<circle cx="215.7" cy="2132.9" r="6.1" fill="#c2c2c2" stroke="#3e3e3e" stroke-width="2.8"/>
<circle cx="207.9" cy="2149.7" r="6.1" fill="#c2c2c2" stroke="#3e3e3e" stroke-width="2.8"/>
<circle cx="223.9" cy="2149.3" r="6.1" fill="#c2c2c2" stroke="#3e3e3e" stroke-width="2.8"/>
<circle cx="242.1" cy="2136.0" r="6.1" fill="#c2c2c2" stroke="#3e3e3e" stroke-width="2.8"/>
<circle cx="251.1" cy="2146.9" r="6.1" fill="#c2c2c2" stroke="#3e3e3e" stroke-width="2.8"/>
<circle cx="259.3" cy="2135.0" r="6.1" fill="#c2c2c2" stroke="#3e3e3e" stroke-width="2.8"/>
<circle cx="286.9" cy="2112.1" r="6.1" fill="#c2c2c2" stroke="#3e3e3e" stroke-width="2.8"/>
<circle cx="286.9" cy="2142.6" r="6.1" fill="#c2c2c2" stroke="#3e3e3e" stroke-width="2.8"/>
<circle cx="306.9" cy="2145.0" r="6.1" fill="#c2c2c2" stroke="#3e3e3e" stroke-width="2.8"/>
<circle cx="322.1" cy="2074.3" r="6.1" fill="#c2c2c2" stroke="#3e3e3e" stroke-width="2.8"/>
<circle cx="322.6" cy="2131.1" r="6.1" fill="#c2c2c2" stroke="#3e3e3e" stroke-width="2.8"/>
<circle cx="322.1" cy="2147.9" r="6.1" fill="#c2c2c2" stroke="#3e3e3e" stroke-width="2.8"/>
<circle cx="337.1" cy="2142.9" r="6.1" fill="#c2c2c2" stroke="#3e3e3e" stroke-width="2.8"/>
<circle cx="357.6" cy="2074.3" r="6.1" fill="#c2c2c2" stroke="#3e3e3e" stroke-width="2.8"/>
<circle cx="357.6" cy="2127.1" r="6.1" fill="#c2c2c2" stroke="#3e3e3e" stroke-width="2.8"/>
<circle cx="357.6" cy="2142.6" r="6.1" fill="#c2c2c2" stroke="#3e3e3e" stroke-width="2.8"/>
<circle cx="393.3" cy="2122.1" r="6.1" fill="#c2c2c2" stroke="#3e3e3e" stroke-width="2.8"/>
<circle cx="405.7" cy="2127.9" r="6.1" fill="#c2c2c2" stroke="#3e3e3e" stroke-width="2.8"/>
<circle cx="428.3" cy="2057.9" r="6.1" fill="#c2c2c2" stroke="#3e3e3e" stroke-width="2.8"/>
<circle cx="428.3" cy="2074.3" r="6.1" fill="#c2c2c2" stroke="#3e3e3e" stroke-width="2.8"/>
<circle cx="428.3" cy="2088.6" r="6.1" fill="#c2c2c2" stroke="#3e3e3e" stroke-width="2.8"/>
<circle cx="428.3" cy="2102.6" r="6.1" fill="#c2c2c2" stroke="#3e3e3e" stroke-width="2.8"/>
<circle cx="428.3" cy="2118.6" r="6.1" fill="#c2c2c2" stroke="#3e3e3e" stroke-width="2.8"/>
<circle cx="417.9" cy="2145.7" r="6.1" fill="#c2c2c2" stroke="#3e3e3e" stroke-width="2.8"/>
<circle cx="429.3" cy="2137.1" r="6.1" fill="#c2c2c2" stroke="#3e3e3e" stroke-width="2.8"/>
<circle cx="440.0" cy="2146.4" r="6.1" fill="#c2c2c2" stroke="#3e3e3e" stroke-width="2.8"/>
<circle cx="457.1" cy="2083.6" r="6.1" fill="#c2c2c2" stroke="#3e3e3e" stroke-width="2.8"/>
<circle cx="472.1" cy="2085.0" r="6.1" fill="#c2c2c2" stroke="#3e3e3e" stroke-width="2.8"/>
<circle cx="452.4" cy="2135.4" r="6.1" fill="#c2c2c2" stroke="#3e3e3e" stroke-width="2.8"/>
<circle cx="463.6" cy="2143.6" r="6.1" fill="#c2c2c2" stroke="#3e3e3e" stroke-width="2.8"/>
<circle cx="473.9" cy="2134.3" r="6.1" fill="#c2c2c2" stroke="#3e3e3e" stroke-width="2.8"/>
<circle cx="498.6" cy="2024.3" r="6.1" fill="#c2c2c2" stroke="#3e3e3e" stroke-width="2.8"/>
<circle cx="498.6" cy="2104.0" r="6.1" fill="#c2c2c2" stroke="#3e3e3e" stroke-width="2.8"/>
<circle cx="493.3" cy="2140.0" r="6.1" fill="#c2c2c2" stroke="#3e3e3e" stroke-width="2.8"/>
<circle cx="508.1" cy="2138.9" r="6.1" fill="#c2c2c2" stroke="#3e3e3e" stroke-width="2.8"/>
<circle cx="562.1" cy="2024.3" r="6.1" fill="#c2c2c2" stroke="#3e3e3e" stroke-width="2.8"/>
<circle cx="577.1" cy="2024.3" r="6.1" fill="#c2c2c2" stroke="#3e3e3e" stroke-width="2.8"/>
<circle cx="605.0" cy="2058.6" r="6.1" fill="#c2c2c2" stroke="#3e3e3e" stroke-width="2.8"/>
<circle cx="639.7" cy="2040.7" r="6.1" fill="#c2c2c2" stroke="#3e3e3e" stroke-width="2.8"/>
<circle cx="629.7" cy="2057.9" r="6.1" fill="#c2c2c2" stroke="#3e3e3e" stroke-width="2.8"/>
<circle cx="646.9" cy="2058.3" r="6.1" fill="#c2c2c2" stroke="#3e3e3e" stroke-width="2.8"/>
<circle cx="639.7" cy="2077.1" r="6.1" fill="#c2c2c2" stroke="#3e3e3e" stroke-width="2.8"/>
<circle cx="671.1" cy="2024.3" r="6.1" fill="#c2c2c2" stroke="#3e3e3e" stroke-width="2.8"/>
<circle cx="675.7" cy="2078.3" r="6.1" fill="#c2c2c2" stroke="#3e3e3e" stroke-width="2.8"/>
<circle cx="533.6" cy="2105.0" r="6.1" fill="#c2c2c2" stroke="#3e3e3e" stroke-width="2.8"/>
<circle cx="534.0" cy="2123.6" r="6.1" fill="#c2c2c2" stroke="#3e3e3e" stroke-width="2.8"/>
<circle cx="569.7" cy="2110.3" r="6.1" fill="#c2c2c2" stroke="#3e3e3e" stroke-width="2.8"/>
<circle cx="557.1" cy="2122.6" r="6.1" fill="#c2c2c2" stroke="#3e3e3e" stroke-width="2.8"/>
<circle cx="570.0" cy="2122.9" r="6.1" fill="#c2c2c2" stroke="#3e3e3e" stroke-width="2.8"/>
<circle cx="583.6" cy="2122.6" r="6.1" fill="#c2c2c2" stroke="#3e3e3e" stroke-width="2.8"/>
<circle cx="569.3" cy="2138.9" r="6.1" fill="#c2c2c2" stroke="#3e3e3e" stroke-width="2.8"/>
<circle cx="604.3" cy="2108.6" r="6.1" fill="#c2c2c2" stroke="#3e3e3e" stroke-width="2.8"/>
<circle cx="604.3" cy="2141.1" r="6.1" fill="#c2c2c2" stroke="#3e3e3e" stroke-width="2.8"/>
<circle cx="604.7" cy="2153.6" r="6.1" fill="#c2c2c2" stroke="#3e3e3e" stroke-width="2.8"/>
<circle cx="640.7" cy="2148.3" r="6.1" fill="#c2c2c2" stroke="#3e3e3e" stroke-width="2.8"/>
<circle cx="676.4" cy="2122.6" r="6.1" fill="#c2c2c2" stroke="#3e3e3e" stroke-width="2.8"/>
<circle cx="669.3" cy="2135.7" r="6.1" fill="#c2c2c2" stroke="#3e3e3e" stroke-width="2.8"/>
<circle cx="684.3" cy="2135.0" r="6.1" fill="#c2c2c2" stroke="#3e3e3e" stroke-width="2.8"/>
<circle cx="676.4" cy="2148.9" r="6.1" fill="#c2c2c2" stroke="#3e3e3e" stroke-width="2.8"/>
<circle cx="569.1" cy="1872.1" r="6.1" fill="#c2c2c2" stroke="#3e3e3e" stroke-width="2.8"/>
<circle cx="744.3" cy="1990.3" r="6.1" fill="#c2c2c2" stroke="#3e3e3e" stroke-width="2.8"/>
<circle cx="781.9" cy="2025.4" r="6.1" fill="#c2c2c2" stroke="#3e3e3e" stroke-width="2.8"/>
<circle cx="852.4" cy="2057.9" r="6.1" fill="#c2c2c2" stroke="#3e3e3e" stroke-width="2.8"/>
<circle cx="852.4" cy="2074.6" r="6.1" fill="#c2c2c2" stroke="#3e3e3e" stroke-width="2.8"/>
<circle cx="841.4" cy="2083.1" r="6.1" fill="#c2c2c2" stroke="#3e3e3e" stroke-width="2.8"/>
<circle cx="864.3" cy="2087.1" r="6.1" fill="#c2c2c2" stroke="#3e3e3e" stroke-width="2.8"/>
<circle cx="852.4" cy="2100.0" r="6.1" fill="#c2c2c2" stroke="#3e3e3e" stroke-width="2.8"/>
<circle cx="711.0" cy="2099.7" r="6.1" fill="#c2c2c2" stroke="#3e3e3e" stroke-width="2.8"/>
<circle cx="746.1" cy="2091.7" r="6.1" fill="#c2c2c2" stroke="#3e3e3e" stroke-width="2.8"/>
<circle cx="732.1" cy="2110.3" r="6.1" fill="#c2c2c2" stroke="#3e3e3e" stroke-width="2.8"/>
<circle cx="746.7" cy="2112.9" r="6.1" fill="#c2c2c2" stroke="#3e3e3e" stroke-width="2.8"/>
<circle cx="760.4" cy="2111.7" r="6.1" fill="#c2c2c2" stroke="#3e3e3e" stroke-width="2.8"/>
<circle cx="732.1" cy="2123.1" r="6.1" fill="#c2c2c2" stroke="#3e3e3e" stroke-width="2.8"/>
<circle cx="747.1" cy="2125.7" r="6.1" fill="#c2c2c2" stroke="#3e3e3e" stroke-width="2.8"/>
<circle cx="763.6" cy="2124.0" r="6.1" fill="#c2c2c2" stroke="#3e3e3e" stroke-width="2.8"/>
<circle cx="732.1" cy="2136.9" r="6.1" fill="#c2c2c2" stroke="#3e3e3e" stroke-width="2.8"/>
<circle cx="757.1" cy="2140.7" r="6.1" fill="#c2c2c2" stroke="#3e3e3e" stroke-width="2.8"/>
<circle cx="781.9" cy="2113.1" r="6.1" fill="#c2c2c2" stroke="#3e3e3e" stroke-width="2.8"/>
<circle cx="711.4" cy="2138.6" r="6.1" fill="#c2c2c2" stroke="#3e3e3e" stroke-width="2.8"/>
<circle cx="711.4" cy="2150.0" r="6.1" fill="#c2c2c2" stroke="#3e3e3e" stroke-width="2.8"/>
<circle cx="781.9" cy="2137.9" r="6.1" fill="#c2c2c2" stroke="#3e3e3e" stroke-width="2.8"/>
<circle cx="774.7" cy="2149.3" r="6.1" fill="#c2c2c2" stroke="#3e3e3e" stroke-width="2.8"/>
<circle cx="790.0" cy="2147.9" r="6.1" fill="#c2c2c2" stroke="#3e3e3e" stroke-width="2.8"/>
<circle cx="803.3" cy="2147.9" r="6.1" fill="#c2c2c2" stroke="#3e3e3e" stroke-width="2.8"/>
<circle cx="817.1" cy="2135.0" r="6.1" fill="#c2c2c2" stroke="#3e3e3e" stroke-width="2.8"/>
<circle cx="816.4" cy="2149.3" r="6.1" fill="#c2c2c2" stroke="#3e3e3e" stroke-width="2.8"/>
<circle cx="831.9" cy="2135.7" r="6.1" fill="#c2c2c2" stroke="#3e3e3e" stroke-width="2.8"/>
<circle cx="832.9" cy="2149.7" r="6.1" fill="#c2c2c2" stroke="#3e3e3e" stroke-width="2.8"/>
<circle cx="839.3" cy="2122.6" r="6.1" fill="#c2c2c2" stroke="#3e3e3e" stroke-width="2.8"/>
<circle cx="842.1" cy="2137.1" r="6.1" fill="#c2c2c2" stroke="#3e3e3e" stroke-width="2.8"/>
<circle cx="852.9" cy="2120.7" r="6.1" fill="#c2c2c2" stroke="#3e3e3e" stroke-width="2.8"/>
<circle cx="852.9" cy="2134.3" r="6.1" fill="#c2c2c2" stroke="#3e3e3e" stroke-width="2.8"/>
<circle cx="852.4" cy="2147.9" r="6.1" fill="#c2c2c2" stroke="#3e3e3e" stroke-width="2.8"/>
<circle cx="865.7" cy="2122.6" r="6.1" fill="#c2c2c2" stroke="#3e3e3e" stroke-width="2.8"/>
<circle cx="866.1" cy="2135.7" r="6.1" fill="#c2c2c2" stroke="#3e3e3e" stroke-width="2.8"/>
<circle cx="866.1" cy="2148.3" r="6.1" fill="#c2c2c2" stroke="#3e3e3e" stroke-width="2.8"/>
<circle cx="817.9" cy="1974.0" r="6.1" fill="#c2c2c2" stroke="#3e3e3e" stroke-width="2.8"/>
<circle cx="923.6" cy="2078.9" r="6.1" fill="#c2c2c2" stroke="#3e3e3e" stroke-width="2.8"/>
<circle cx="923.1" cy="2097.1" r="6.1" fill="#c2c2c2" stroke="#3e3e3e" stroke-width="2.8"/>
<circle cx="958.3" cy="2093.1" r="6.1" fill="#c2c2c2" stroke="#3e3e3e" stroke-width="2.8"/>
<circle cx="1030.0" cy="2087.1" r="6.1" fill="#c2c2c2" stroke="#3e3e3e" stroke-width="2.8"/>
<circle cx="1059.3" cy="2035.0" r="6.1" fill="#c2c2c2" stroke="#3e3e3e" stroke-width="2.8"/>
<circle cx="887.9" cy="2123.6" r="6.1" fill="#c2c2c2" stroke="#3e3e3e" stroke-width="2.8"/>
<circle cx="888.3" cy="2137.4" r="6.1" fill="#c2c2c2" stroke="#3e3e3e" stroke-width="2.8"/>
<circle cx="909.7" cy="2142.6" r="6.1" fill="#c2c2c2" stroke="#3e3e3e" stroke-width="2.8"/>
<circle cx="922.6" cy="2135.0" r="6.1" fill="#c2c2c2" stroke="#3e3e3e" stroke-width="2.8"/>
<circle cx="922.9" cy="2149.7" r="6.1" fill="#c2c2c2" stroke="#3e3e3e" stroke-width="2.8"/>
<circle cx="936.4" cy="2143.1" r="6.1" fill="#c2c2c2" stroke="#3e3e3e" stroke-width="2.8"/>
<circle cx="958.3" cy="2144.3" r="6.1" fill="#c2c2c2" stroke="#3e3e3e" stroke-width="2.8"/>
<circle cx="993.6" cy="2128.6" r="6.1" fill="#c2c2c2" stroke="#3e3e3e" stroke-width="2.8"/>
<circle cx="985.7" cy="2143.1" r="6.1" fill="#c2c2c2" stroke="#3e3e3e" stroke-width="2.8"/>
<circle cx="1002.1" cy="2142.9" r="6.1" fill="#c2c2c2" stroke="#3e3e3e" stroke-width="2.8"/>
<circle cx="1030.0" cy="2113.6" r="6.1" fill="#c2c2c2" stroke="#3e3e3e" stroke-width="2.8"/>
<circle cx="1030.0" cy="2128.3" r="6.1" fill="#c2c2c2" stroke="#3e3e3e" stroke-width="2.8"/>
<circle cx="1030.0" cy="2140.0" r="6.1" fill="#c2c2c2" stroke="#3e3e3e" stroke-width="2.8"/>
<circle cx="1030.0" cy="2151.4" r="6.1" fill="#c2c2c2" stroke="#3e3e3e" stroke-width="2.8"/>
<circle cx="1056.4" cy="2135.7" r="6.1" fill="#c2c2c2" stroke="#3e3e3e" stroke-width="2.8"/>
<circle cx="1055.7" cy="2149.3" r="6.1" fill="#c2c2c2" stroke="#3e3e3e" stroke-width="2.8"/>
<circle cx="1100.0" cy="2025.0" r="6.1" fill="#c2c2c2" stroke="#3e3e3e" stroke-width="2.8"/>
<circle cx="1134.3" cy="2040.7" r="6.1" fill="#c2c2c2" stroke="#3e3e3e" stroke-width="2.8"/>
<circle cx="1170.0" cy="2024.3" r="6.1" fill="#c2c2c2" stroke="#3e3e3e" stroke-width="2.8"/>
<circle cx="1170.0" cy="2084.6" r="6.1" fill="#c2c2c2" stroke="#3e3e3e" stroke-width="2.8"/>
<circle cx="1240.7" cy="2088.3" r="6.1" fill="#c2c2c2" stroke="#3e3e3e" stroke-width="2.8"/>
<circle cx="1127.1" cy="2107.9" r="6.1" fill="#c2c2c2" stroke="#3e3e3e" stroke-width="2.8"/>
<circle cx="1140.7" cy="2104.3" r="6.1" fill="#c2c2c2" stroke="#3e3e3e" stroke-width="2.8"/>
<circle cx="1206.4" cy="2104.0" r="6.1" fill="#c2c2c2" stroke="#3e3e3e" stroke-width="2.8"/>
<circle cx="1195.7" cy="2119.3" r="6.1" fill="#c2c2c2" stroke="#3e3e3e" stroke-width="2.8"/>
<circle cx="1217.9" cy="2117.9" r="6.1" fill="#c2c2c2" stroke="#3e3e3e" stroke-width="2.8"/>
<circle cx="1206.0" cy="2126.9" r="6.1" fill="#c2c2c2" stroke="#3e3e3e" stroke-width="2.8"/>
<circle cx="1206.4" cy="2139.7" r="6.1" fill="#c2c2c2" stroke="#3e3e3e" stroke-width="2.8"/>
<circle cx="1196.4" cy="2147.9" r="6.1" fill="#c2c2c2" stroke="#3e3e3e" stroke-width="2.8"/>
<circle cx="1214.3" cy="2149.7" r="6.1" fill="#c2c2c2" stroke="#3e3e3e" stroke-width="2.8"/>
<circle cx="1095.7" cy="2122.1" r="6.1" fill="#c2c2c2" stroke="#3e3e3e" stroke-width="2.8"/>
<circle cx="1092.9" cy="2135.0" r="6.1" fill="#c2c2c2" stroke="#3e3e3e" stroke-width="2.8"/>
<circle cx="1106.4" cy="2134.6" r="6.1" fill="#c2c2c2" stroke="#3e3e3e" stroke-width="2.8"/>
<circle cx="1092.9" cy="2148.3" r="6.1" fill="#c2c2c2" stroke="#3e3e3e" stroke-width="2.8"/>
<circle cx="1107.4" cy="2148.9" r="6.1" fill="#c2c2c2" stroke="#3e3e3e" stroke-width="2.8"/>
<circle cx="1071.1" cy="2138.6" r="6.1" fill="#c2c2c2" stroke="#3e3e3e" stroke-width="2.8"/>
<circle cx="1071.4" cy="2151.4" r="6.1" fill="#c2c2c2" stroke="#3e3e3e" stroke-width="2.8"/>
<circle cx="1135.4" cy="2125.7" r="6.1" fill="#c2c2c2" stroke="#3e3e3e" stroke-width="2.8"/>
<circle cx="1127.9" cy="2137.1" r="6.1" fill="#c2c2c2" stroke="#3e3e3e" stroke-width="2.8"/>
<circle cx="1142.1" cy="2137.4" r="6.1" fill="#c2c2c2" stroke="#3e3e3e" stroke-width="2.8"/>
<circle cx="1135.4" cy="2149.3" r="6.1" fill="#c2c2c2" stroke="#3e3e3e" stroke-width="2.8"/>
<circle cx="1170.7" cy="2135.4" r="6.1" fill="#c2c2c2" stroke="#3e3e3e" stroke-width="2.8"/>
<circle cx="1170.0" cy="2149.7" r="6.1" fill="#c2c2c2" stroke="#3e3e3e" stroke-width="2.8"/>
<circle cx="1241.4" cy="2136.0" r="6.1" fill="#c2c2c2" stroke="#3e3e3e" stroke-width="2.8"/>
<circle cx="1206.4" cy="1838.9" r="6.1" fill="#c2c2c2" stroke="#3e3e3e" stroke-width="2.8"/>
<circle cx="1136.4" cy="1937.1" r="6.1" fill="#c2c2c2" stroke="#3e3e3e" stroke-width="2.8"/>
<circle cx="1264.4" cy="2120.5" r="6.1" fill="#c2c2c2" stroke="#3e3e3e" stroke-width="2.8"/>
<circle cx="1276.6" cy="2120.1" r="6.1" fill="#c2c2c2" stroke="#3e3e3e" stroke-width="2.8"/>
<circle cx="1288.8" cy="2120.1" r="6.1" fill="#c2c2c2" stroke="#3e3e3e" stroke-width="2.8"/>
<circle cx="1264.4" cy="2131.6" r="6.1" fill="#c2c2c2" stroke="#3e3e3e" stroke-width="2.8"/>
<circle cx="1277.2" cy="2132.3" r="6.1" fill="#c2c2c2" stroke="#3e3e3e" stroke-width="2.8"/>
<circle cx="1265.0" cy="2142.6" r="6.1" fill="#c2c2c2" stroke="#3e3e3e" stroke-width="2.8"/>
<circle cx="1289.4" cy="2139.4" r="6.1" fill="#c2c2c2" stroke="#3e3e3e" stroke-width="2.8"/>
<circle cx="1276.6" cy="2152.2" r="6.1" fill="#c2c2c2" stroke="#3e3e3e" stroke-width="2.8"/>
<circle cx="1313.2" cy="2093.7" r="6.1" fill="#c2c2c2" stroke="#3e3e3e" stroke-width="2.8"/>
<circle cx="1312.3" cy="2109.1" r="6.1" fill="#c2c2c2" stroke="#3e3e3e" stroke-width="2.8"/>
<circle cx="1302.3" cy="2134.2" r="6.1" fill="#c2c2c2" stroke="#3e3e3e" stroke-width="2.8"/>
<circle cx="1314.5" cy="2131.0" r="6.1" fill="#c2c2c2" stroke="#3e3e3e" stroke-width="2.8"/>
<circle cx="1326.7" cy="2133.3" r="6.1" fill="#c2c2c2" stroke="#3e3e3e" stroke-width="2.8"/>
<circle cx="1303.6" cy="2149.0" r="6.1" fill="#c2c2c2" stroke="#3e3e3e" stroke-width="2.8"/>
<circle cx="1317.1" cy="2145.1" r="6.1" fill="#c2c2c2" stroke="#3e3e3e" stroke-width="2.8"/>
<circle cx="1326.5" cy="2154.1" r="6.1" fill="#c2c2c2" stroke="#3e3e3e" stroke-width="2.8"/>
<circle cx="1347.9" cy="2114.3" r="6.1" fill="#c2c2c2" stroke="#3e3e3e" stroke-width="2.8"/>
<circle cx="1347.9" cy="2132.0" r="6.1" fill="#c2c2c2" stroke="#3e3e3e" stroke-width="2.8"/>
<circle cx="1347.9" cy="2145.8" r="6.1" fill="#c2c2c2" stroke="#3e3e3e" stroke-width="2.8"/>
<circle cx="1382.6" cy="2134.2" r="6.1" fill="#c2c2c2" stroke="#3e3e3e" stroke-width="2.8"/>
<path d="M512.0,2003.9 L520.0,2012.1 L512.0,2020.3 L504.0,2012.1 Z" fill="#1a1a1a"/>
<path d="M581.4,1987.8 L589.4,1996.0 L581.4,2004.2 L573.4,1996.0 Z" fill="#1a1a1a"/>
<path d="M683.1,2021.1 L691.1,2029.3 L683.1,2037.5 L675.1,2029.3 Z" fill="#1a1a1a"/>
<path d="M715.7,2004.4 L723.7,2012.6 L715.7,2020.8 L707.7,2012.6 Z" fill="#1a1a1a"/>
<path d="M728.6,2004.4 L736.6,2012.6 L728.6,2020.8 L720.6,2012.6 Z" fill="#1a1a1a"/>
<path d="M720.7,2021.1 L728.7,2029.3 L720.7,2037.5 L712.7,2029.3 Z" fill="#1a1a1a"/>
<path d="M757.1,1987.8 L765.1,1996.0 L757.1,2004.2 L749.1,1996.0 Z" fill="#1a1a1a"/>
<path d="M755.3,2037.2 L763.3,2045.4 L755.3,2053.6 L747.3,2045.4 Z" fill="#1a1a1a"/>
<path d="M790.4,1987.2 L798.4,1995.4 L790.4,2003.6 L782.4,1995.4 Z" fill="#1a1a1a"/>
<path d="M779.0,2003.5 L787.0,2011.7 L779.0,2019.9 L771.0,2011.7 Z" fill="#1a1a1a"/>
<path d="M790.4,2003.5 L798.4,2011.7 L790.4,2019.9 L782.4,2011.7 Z" fill="#1a1a1a"/>
<path d="M801.9,2004.4 L809.9,2012.6 L801.9,2020.8 L793.9,2012.6 Z" fill="#1a1a1a"/>
<path d="M794.7,2021.1 L802.7,2029.3 L794.7,2037.5 L786.7,2029.3 Z" fill="#1a1a1a"/>
<path d="M814.7,1987.8 L822.7,1996.0 L814.7,2004.2 L806.7,1996.0 Z" fill="#1a1a1a"/>
<path d="M824.7,1987.8 L832.7,1996.0 L824.7,2004.2 L816.7,1996.0 Z" fill="#1a1a1a"/>
<path d="M834.3,1987.8 L842.3,1996.0 L834.3,2004.2 L826.3,1996.0 Z" fill="#1a1a1a"/>
<path d="M825.0,2020.7 L833.0,2028.9 L825.0,2037.1 L817.0,2028.9 Z" fill="#1a1a1a"/>
<path d="M820.4,2037.2 L828.4,2045.4 L820.4,2053.6 L812.4,2045.4 Z" fill="#1a1a1a"/>
<path d="M831.4,2037.2 L839.4,2045.4 L831.4,2053.6 L823.4,2045.4 Z" fill="#1a1a1a"/>
<path d="M853.6,1987.2 L861.6,1995.4 L853.6,2003.6 L845.6,1995.4 Z" fill="#1a1a1a"/>
<path d="M866.1,1987.8 L874.1,1996.0 L866.1,2004.2 L858.1,1996.0 Z" fill="#1a1a1a"/>
<path d="M847.9,2003.5 L855.9,2011.7 L847.9,2019.9 L839.9,2011.7 Z" fill="#1a1a1a"/>
<path d="M859.0,2003.5 L867.0,2011.7 L859.0,2019.9 L851.0,2011.7 Z" fill="#1a1a1a"/>
<path d="M870.4,2003.5 L878.4,2011.7 L870.4,2019.9 L862.4,2011.7 Z" fill="#1a1a1a"/>
<path d="M850.0,2021.1 L858.0,2029.3 L850.0,2037.5 L842.0,2029.3 Z" fill="#1a1a1a"/>
<path d="M859.6,2021.1 L867.6,2029.3 L859.6,2037.5 L851.6,2029.3 Z" fill="#1a1a1a"/>
<path d="M871.4,2021.1 L879.4,2029.3 L871.4,2037.5 L863.4,2029.3 Z" fill="#1a1a1a"/>
<path d="M859.6,2037.2 L867.6,2045.4 L859.6,2053.6 L851.6,2045.4 Z" fill="#1a1a1a"/>
<path d="M825.0,1788.2 L833.0,1796.4 L825.0,1804.6 L817.0,1796.4 Z" fill="#1a1a1a"/>
<path d="M790.4,1821.1 L798.4,1829.3 L790.4,1837.5 L782.4,1829.3 Z" fill="#1a1a1a"/>
<path d="M825.0,1838.7 L833.0,1846.9 L825.0,1855.1 L817.0,1846.9 Z" fill="#1a1a1a"/>
<path d="M859.6,1838.7 L867.6,1846.9 L859.6,1855.1 L851.6,1846.9 Z" fill="#1a1a1a"/>
<path d="M825.0,1854.7 L833.0,1862.9 L825.0,1871.1 L817.0,1862.9 Z" fill="#1a1a1a"/>
<path d="M859.6,1854.7 L867.6,1862.9 L859.6,1871.1 L851.6,1862.9 Z" fill="#1a1a1a"/>
<path d="M814.3,1871.8 L822.3,1880.0 L814.3,1888.2 L806.3,1880.0 Z" fill="#1a1a1a"/>
<path d="M825.0,1871.8 L833.0,1880.0 L825.0,1888.2 L817.0,1880.0 Z" fill="#1a1a1a"/>
<path d="M835.7,1871.8 L843.7,1880.0 L835.7,1888.2 L827.7,1880.0 Z" fill="#1a1a1a"/>
<path d="M855.7,1871.8 L863.7,1880.0 L855.7,1888.2 L847.7,1880.0 Z" fill="#1a1a1a"/>
<path d="M866.1,1871.8 L874.1,1880.0 L866.1,1888.2 L858.1,1880.0 Z" fill="#1a1a1a"/>
<path d="M825.0,1888.2 L833.0,1896.4 L825.0,1904.6 L817.0,1896.4 Z" fill="#1a1a1a"/>
<path d="M755.0,1887.8 L763.0,1896.0 L755.0,1904.2 L747.0,1896.0 Z" fill="#1a1a1a"/>
<path d="M715.7,1920.7 L723.7,1928.9 L715.7,1937.1 L707.7,1928.9 Z" fill="#1a1a1a"/>
<path d="M728.6,1920.7 L736.6,1928.9 L728.6,1937.1 L720.6,1928.9 Z" fill="#1a1a1a"/>
<path d="M825.0,1937.8 L833.0,1946.0 L825.0,1954.2 L817.0,1946.0 Z" fill="#1a1a1a"/>
<path d="M720.7,1954.7 L728.7,1962.9 L720.7,1971.1 L712.7,1962.9 Z" fill="#1a1a1a"/>
<path d="M852.9,1954.7 L860.9,1962.9 L852.9,1971.1 L844.9,1962.9 Z" fill="#1a1a1a"/>
<path d="M862.9,1954.7 L870.9,1962.9 L862.9,1971.1 L854.9,1962.9 Z" fill="#1a1a1a"/>
<path d="M830.4,1971.1 L838.4,1979.3 L830.4,1987.5 L822.4,1979.3 Z" fill="#1a1a1a"/>
<path d="M855.0,1971.1 L863.0,1979.3 L855.0,1987.5 L847.0,1979.3 Z" fill="#1a1a1a"/>
<path d="M866.1,1971.1 L874.1,1979.3 L866.1,1987.5 L858.1,1979.3 Z" fill="#1a1a1a"/>
<path d="M790.1,1704.7 L798.1,1712.9 L790.1,1721.1 L782.1,1712.9 Z" fill="#1a1a1a"/>
<path d="M825.0,1721.2 L833.0,1729.4 L825.0,1737.6 L817.0,1729.4 Z" fill="#1a1a1a"/>
<path d="M825.0,1738.4 L833.0,1746.6 L825.0,1754.8 L817.0,1746.6 Z" fill="#1a1a1a"/>
<path d="M1034.6,1788.2 L1042.6,1796.4 L1034.6,1804.6 L1026.6,1796.4 Z" fill="#1a1a1a"/>
<path d="M1034.6,1804.4 L1042.6,1812.6 L1034.6,1820.8 L1026.6,1812.6 Z" fill="#1a1a1a"/>
<path d="M1022.9,1854.4 L1030.9,1862.6 L1022.9,1870.8 L1014.9,1862.6 Z" fill="#1a1a1a"/>
<path d="M1032.9,1854.4 L1040.9,1862.6 L1032.9,1870.8 L1024.9,1862.6 Z" fill="#1a1a1a"/>
<path d="M1044.3,1854.4 L1052.3,1862.6 L1044.3,1870.8 L1036.3,1862.6 Z" fill="#1a1a1a"/>
<path d="M1034.6,1871.8 L1042.6,1880.0 L1034.6,1888.2 L1026.6,1880.0 Z" fill="#1a1a1a"/>
<path d="M892.6,1871.8 L900.6,1880.0 L892.6,1888.2 L884.6,1880.0 Z" fill="#1a1a1a"/>
<path d="M929.3,1871.8 L937.3,1880.0 L929.3,1888.2 L921.3,1880.0 Z" fill="#1a1a1a"/>
<path d="M987.1,1887.8 L995.1,1896.0 L987.1,1904.2 L979.1,1896.0 Z" fill="#1a1a1a"/>
<path d="M998.3,1887.8 L1006.3,1896.0 L998.3,1904.2 L990.3,1896.0 Z" fill="#1a1a1a"/>
<path d="M1009.7,1887.8 L1017.7,1896.0 L1009.7,1904.2 L1001.7,1896.0 Z" fill="#1a1a1a"/>
<path d="M1028.6,1887.8 L1036.6,1896.0 L1028.6,1904.2 L1020.6,1896.0 Z" fill="#1a1a1a"/>
<path d="M1038.9,1887.8 L1046.9,1896.0 L1038.9,1904.2 L1030.9,1896.0 Z" fill="#1a1a1a"/>
<path d="M929.3,1920.1 L937.3,1928.3 L929.3,1936.5 L921.3,1928.3 Z" fill="#1a1a1a"/>
<path d="M956.4,1920.1 L964.4,1928.3 L956.4,1936.5 L948.4,1928.3 Z" fill="#1a1a1a"/>
<path d="M970.0,1920.1 L978.0,1928.3 L970.0,1936.5 L962.0,1928.3 Z" fill="#1a1a1a"/>
<path d="M993.6,1920.1 L1001.6,1928.3 L993.6,1936.5 L985.6,1928.3 Z" fill="#1a1a1a"/>
<path d="M1005.0,1920.1 L1013.0,1928.3 L1005.0,1936.5 L997.0,1928.3 Z" fill="#1a1a1a"/>
<path d="M922.9,1937.8 L930.9,1946.0 L922.9,1954.2 L914.9,1946.0 Z" fill="#1a1a1a"/>
<path d="M934.3,1937.8 L942.3,1946.0 L934.3,1954.2 L926.3,1946.0 Z" fill="#1a1a1a"/>
<path d="M956.4,1937.8 L964.4,1946.0 L956.4,1954.2 L948.4,1946.0 Z" fill="#1a1a1a"/>
<path d="M969.3,1937.8 L977.3,1946.0 L969.3,1954.2 L961.3,1946.0 Z" fill="#1a1a1a"/>
<path d="M1028.6,1937.8 L1036.6,1946.0 L1028.6,1954.2 L1020.6,1946.0 Z" fill="#1a1a1a"/>
<path d="M1040.0,1937.8 L1048.0,1946.0 L1040.0,1954.2 L1032.0,1946.0 Z" fill="#1a1a1a"/>
<path d="M882.1,1954.7 L890.1,1962.9 L882.1,1971.1 L874.1,1962.9 Z" fill="#1a1a1a"/>
<path d="M892.6,1954.7 L900.6,1962.9 L892.6,1971.1 L884.6,1962.9 Z" fill="#1a1a1a"/>
<path d="M902.6,1954.7 L910.6,1962.9 L902.6,1971.1 L894.6,1962.9 Z" fill="#1a1a1a"/>
<path d="M929.3,1954.7 L937.3,1962.9 L929.3,1971.1 L921.3,1962.9 Z" fill="#1a1a1a"/>
<path d="M962.6,1954.7 L970.6,1962.9 L962.6,1971.1 L954.6,1962.9 Z" fill="#1a1a1a"/>
<path d="M996.4,1954.7 L1004.4,1962.9 L996.4,1971.1 L988.4,1962.9 Z" fill="#1a1a1a"/>
<path d="M894.0,1971.1 L902.0,1979.3 L894.0,1987.5 L886.0,1979.3 Z" fill="#1a1a1a"/>
<path d="M917.9,1971.1 L925.9,1979.3 L917.9,1987.5 L909.9,1979.3 Z" fill="#1a1a1a"/>
<path d="M928.6,1971.1 L936.6,1979.3 L928.6,1987.5 L920.6,1979.3 Z" fill="#1a1a1a"/>
<path d="M938.3,1971.1 L946.3,1979.3 L938.3,1987.5 L930.3,1979.3 Z" fill="#1a1a1a"/>
<path d="M954.3,1971.1 L962.3,1979.3 L954.3,1987.5 L946.3,1979.3 Z" fill="#1a1a1a"/>
<path d="M962.9,1968.8 L970.9,1977.0 L962.9,1985.2 L954.9,1977.0 Z" fill="#1a1a1a"/>
<path d="M971.4,1971.1 L979.4,1979.3 L971.4,1987.5 L963.4,1979.3 Z" fill="#1a1a1a"/>
<path d="M985.7,1971.1 L993.7,1979.3 L985.7,1987.5 L977.7,1979.3 Z" fill="#1a1a1a"/>
<path d="M997.1,1971.1 L1005.1,1979.3 L997.1,1987.5 L989.1,1979.3 Z" fill="#1a1a1a"/>
<path d="M1007.9,1971.1 L1015.9,1979.3 L1007.9,1987.5 L999.9,1979.3 Z" fill="#1a1a1a"/>
<path d="M887.1,1987.5 L895.1,1995.7 L887.1,2003.9 L879.1,1995.7 Z" fill="#1a1a1a"/>
<path d="M899.3,1987.5 L907.3,1995.7 L899.3,2003.9 L891.3,1995.7 Z" fill="#1a1a1a"/>
<path d="M920.7,1987.5 L928.7,1995.7 L920.7,2003.9 L912.7,1995.7 Z" fill="#1a1a1a"/>
<path d="M930.0,1987.5 L938.0,1995.7 L930.0,2003.9 L922.0,1995.7 Z" fill="#1a1a1a"/>
<path d="M940.0,1987.5 L948.0,1995.7 L940.0,2003.9 L932.0,1995.7 Z" fill="#1a1a1a"/>
<path d="M952.1,1987.5 L960.1,1995.7 L952.1,2003.9 L944.1,1995.7 Z" fill="#1a1a1a"/>
<path d="M962.1,1987.5 L970.1,1995.7 L962.1,2003.9 L954.1,1995.7 Z" fill="#1a1a1a"/>
<path d="M974.3,1987.5 L982.3,1995.7 L974.3,2003.9 L966.3,1995.7 Z" fill="#1a1a1a"/>
<path d="M998.6,1987.5 L1006.6,1995.7 L998.6,2003.9 L990.6,1995.7 Z" fill="#1a1a1a"/>
<path d="M887.1,2003.9 L895.1,2012.1 L887.1,2020.3 L879.1,2012.1 Z" fill="#1a1a1a"/>
<path d="M897.9,2003.9 L905.9,2012.1 L897.9,2020.3 L889.9,2012.1 Z" fill="#1a1a1a"/>
<path d="M929.3,2003.9 L937.3,2012.1 L929.3,2020.3 L921.3,2012.1 Z" fill="#1a1a1a"/>
<path d="M952.9,2003.9 L960.9,2012.1 L952.9,2020.3 L944.9,2012.1 Z" fill="#1a1a1a"/>
<path d="M962.9,2003.9 L970.9,2012.1 L962.9,2020.3 L954.9,2012.1 Z" fill="#1a1a1a"/>
<path d="M972.1,2003.9 L980.1,2012.1 L972.1,2020.3 L964.1,2012.1 Z" fill="#1a1a1a"/>
<path d="M998.6,2003.9 L1006.6,2012.1 L998.6,2020.3 L990.6,2012.1 Z" fill="#1a1a1a"/>
<path d="M1034.6,2003.9 L1042.6,2012.1 L1034.6,2020.3 L1026.6,2012.1 Z" fill="#1a1a1a"/>
<path d="M887.9,2020.4 L895.9,2028.6 L887.9,2036.8 L879.9,2028.6 Z" fill="#1a1a1a"/>
<path d="M900.7,2020.4 L908.7,2028.6 L900.7,2036.8 L892.7,2028.6 Z" fill="#1a1a1a"/>
<path d="M929.3,2020.4 L937.3,2028.6 L929.3,2036.8 L921.3,2028.6 Z" fill="#1a1a1a"/>
<path d="M944.3,2020.4 L952.3,2028.6 L944.3,2036.8 L936.3,2028.6 Z" fill="#1a1a1a"/>
<path d="M955.7,2020.4 L963.7,2028.6 L955.7,2036.8 L947.7,2028.6 Z" fill="#1a1a1a"/>
<path d="M968.6,2020.4 L976.6,2028.6 L968.6,2036.8 L960.6,2028.6 Z" fill="#1a1a1a"/>
<path d="M980.0,2020.4 L988.0,2028.6 L980.0,2036.8 L972.0,2028.6 Z" fill="#1a1a1a"/>
<path d="M994.3,2020.4 L1002.3,2028.6 L994.3,2036.8 L986.3,2028.6 Z" fill="#1a1a1a"/>
<path d="M1005.7,2020.4 L1013.7,2028.6 L1005.7,2036.8 L997.7,2028.6 Z" fill="#1a1a1a"/>
<path d="M1034.6,2020.4 L1042.6,2028.6 L1034.6,2036.8 L1026.6,2028.6 Z" fill="#1a1a1a"/>
<path d="M883.6,2036.8 L891.6,2045.0 L883.6,2053.2 L875.6,2045.0 Z" fill="#1a1a1a"/>
<path d="M894.3,2036.8 L902.3,2045.0 L894.3,2053.2 L886.3,2045.0 Z" fill="#1a1a1a"/>
<path d="M904.3,2036.8 L912.3,2045.0 L904.3,2053.2 L896.3,2045.0 Z" fill="#1a1a1a"/>
<path d="M922.9,2036.8 L930.9,2045.0 L922.9,2053.2 L914.9,2045.0 Z" fill="#1a1a1a"/>
<path d="M935.7,2036.8 L943.7,2045.0 L935.7,2053.2 L927.7,2045.0 Z" fill="#1a1a1a"/>
<path d="M952.9,2036.8 L960.9,2045.0 L952.9,2053.2 L944.9,2045.0 Z" fill="#1a1a1a"/>
<path d="M972.9,2036.8 L980.9,2045.0 L972.9,2053.2 L964.9,2045.0 Z" fill="#1a1a1a"/>
<path d="M994.3,2036.8 L1002.3,2045.0 L994.3,2053.2 L986.3,2045.0 Z" fill="#1a1a1a"/>
<path d="M1006.4,2036.8 L1014.4,2045.0 L1006.4,2053.2 L998.4,2045.0 Z" fill="#1a1a1a"/>
<path d="M1034.6,2036.8 L1042.6,2045.0 L1034.6,2053.2 L1026.6,2045.0 Z" fill="#1a1a1a"/>
<path d="M962.6,2046.1 L970.6,2054.3 L962.6,2062.5 L954.6,2054.3 Z" fill="#1a1a1a"/>
<path d="M962.0,1979.8 L970.0,1988.0 L962.0,1996.2 L954.0,1988.0 Z" fill="#1a1a1a"/>
<path d="M962.0,1995.8 L970.0,2004.0 L962.0,2012.2 L954.0,2004.0 Z" fill="#1a1a1a"/>
<path d="M962.0,2011.8 L970.0,2020.0 L962.0,2028.2 L954.0,2020.0 Z" fill="#1a1a1a"/>
<path d="M962.0,2028.8 L970.0,2037.0 L962.0,2045.2 L954.0,2037.0 Z" fill="#1a1a1a"/>
<path d="M1098.3,1788.2 L1106.3,1796.4 L1098.3,1804.6 L1090.3,1796.4 Z" fill="#1a1a1a"/>
<path d="M1109.3,1788.2 L1117.3,1796.4 L1109.3,1804.6 L1101.3,1796.4 Z" fill="#1a1a1a"/>
<path d="M1103.6,1804.4 L1111.6,1812.6 L1103.6,1820.8 L1095.6,1812.6 Z" fill="#1a1a1a"/>
<path d="M1092.1,1821.1 L1100.1,1829.3 L1092.1,1837.5 L1084.1,1829.3 Z" fill="#1a1a1a"/>
<path d="M1103.6,1821.1 L1111.6,1829.3 L1103.6,1837.5 L1095.6,1829.3 Z" fill="#1a1a1a"/>
<path d="M1114.3,1821.1 L1122.3,1829.3 L1114.3,1837.5 L1106.3,1829.3 Z" fill="#1a1a1a"/>
<path d="M1103.6,1838.9 L1111.6,1847.1 L1103.6,1855.3 L1095.6,1847.1 Z" fill="#1a1a1a"/>
<path d="M1103.6,1854.9 L1111.6,1863.1 L1103.6,1871.3 L1095.6,1863.1 Z" fill="#1a1a1a"/>
<path d="M1103.6,1871.8 L1111.6,1880.0 L1103.6,1888.2 L1095.6,1880.0 Z" fill="#1a1a1a"/>
<path d="M1068.6,1871.5 L1076.6,1879.7 L1068.6,1887.9 L1060.6,1879.7 Z" fill="#1a1a1a"/>
<path d="M1059.3,1887.5 L1067.3,1895.7 L1059.3,1903.9 L1051.3,1895.7 Z" fill="#1a1a1a"/>
<path d="M1067.9,1887.5 L1075.9,1895.7 L1067.9,1903.9 L1059.9,1895.7 Z" fill="#1a1a1a"/>
<path d="M1076.4,1887.5 L1084.4,1895.7 L1076.4,1903.9 L1068.4,1895.7 Z" fill="#1a1a1a"/>
<path d="M1062.6,1904.7 L1070.6,1912.9 L1062.6,1921.1 L1054.6,1912.9 Z" fill="#1a1a1a"/>
<path d="M1073.6,1904.7 L1081.6,1912.9 L1073.6,1921.1 L1065.6,1912.9 Z" fill="#1a1a1a"/>
<path d="M1098.3,1904.7 L1106.3,1912.9 L1098.3,1921.1 L1090.3,1912.9 Z" fill="#1a1a1a"/>
<path d="M1110.0,1904.7 L1118.0,1912.9 L1110.0,1921.1 L1102.0,1912.9 Z" fill="#1a1a1a"/>
<path d="M1068.6,1920.7 L1076.6,1928.9 L1068.6,1937.1 L1060.6,1928.9 Z" fill="#1a1a1a"/>
<path d="M1062.6,1938.2 L1070.6,1946.4 L1062.6,1954.6 L1054.6,1946.4 Z" fill="#1a1a1a"/>
<path d="M1075.4,1938.2 L1083.4,1946.4 L1075.4,1954.6 L1067.4,1946.4 Z" fill="#1a1a1a"/>
<path d="M1098.6,1938.2 L1106.6,1946.4 L1098.6,1954.6 L1090.6,1946.4 Z" fill="#1a1a1a"/>
<path d="M1110.0,1938.2 L1118.0,1946.4 L1110.0,1954.6 L1102.0,1946.4 Z" fill="#1a1a1a"/>
<path d="M1136.4,1943.2 L1144.4,1951.4 L1136.4,1959.6 L1128.4,1951.4 Z" fill="#1a1a1a"/>
<path d="M1172.9,1938.2 L1180.9,1946.4 L1172.9,1954.6 L1164.9,1946.4 Z" fill="#1a1a1a"/>
<path d="M1207.1,1871.8 L1215.1,1880.0 L1207.1,1888.2 L1199.1,1880.0 Z" fill="#1a1a1a"/>
<path d="M1092.1,1954.7 L1100.1,1962.9 L1092.1,1971.1 L1084.1,1962.9 Z" fill="#1a1a1a"/>
<path d="M1103.6,1951.8 L1111.6,1960.0 L1103.6,1968.2 L1095.6,1960.0 Z" fill="#1a1a1a"/>
<path d="M1116.4,1955.4 L1124.4,1963.6 L1116.4,1971.8 L1108.4,1963.6 Z" fill="#1a1a1a"/>
<path d="M1137.1,1754.9 L1145.1,1763.1 L1137.1,1771.3 L1129.1,1763.1 Z" fill="#1a1a1a"/>
<path d="M1064.3,1970.1 L1072.3,1978.3 L1064.3,1986.5 L1056.3,1978.3 Z" fill="#1a1a1a"/>
<path d="M1075.4,1970.1 L1083.4,1978.3 L1075.4,1986.5 L1067.4,1978.3 Z" fill="#1a1a1a"/>
<path d="M1103.6,1971.1 L1111.6,1979.3 L1103.6,1987.5 L1095.6,1979.3 Z" fill="#1a1a1a"/>
<path d="M1062.6,1987.2 L1070.6,1995.4 L1062.6,2003.6 L1054.6,1995.4 Z" fill="#1a1a1a"/>
<path d="M1075.0,1987.2 L1083.0,1995.4 L1075.0,2003.6 L1067.0,1995.4 Z" fill="#1a1a1a"/>
<path d="M1103.6,1987.8 L1111.6,1996.0 L1103.6,2004.2 L1095.6,1996.0 Z" fill="#1a1a1a"/>
<path d="M1068.6,2004.4 L1076.6,2012.6 L1068.6,2020.8 L1060.6,2012.6 Z" fill="#1a1a1a"/>
<path d="M1075.0,2025.4 L1083.0,2033.6 L1075.0,2041.8 L1067.0,2033.6 Z" fill="#1a1a1a"/>
<path d="M1055.0,2038.9 L1063.0,2047.1 L1055.0,2055.3 L1047.0,2047.1 Z" fill="#1a1a1a"/>
<path d="M1068.6,2035.4 L1076.6,2043.6 L1068.6,2051.8 L1060.6,2043.6 Z" fill="#1a1a1a"/>
<path d="M1080.0,2037.5 L1088.0,2045.7 L1080.0,2053.9 L1072.0,2045.7 Z" fill="#1a1a1a"/>
<path d="M1068.6,2044.7 L1076.6,2052.9 L1068.6,2061.1 L1060.6,2052.9 Z" fill="#1a1a1a"/>
<path d="M1097.1,2037.2 L1105.1,2045.4 L1097.1,2053.6 L1089.1,2045.4 Z" fill="#1a1a1a"/>
<path d="M1110.0,2037.2 L1118.0,2045.4 L1110.0,2053.6 L1102.0,2045.4 Z" fill="#1a1a1a"/>
<path d="M1207.1,2037.2 L1215.1,2045.4 L1207.1,2053.6 L1199.1,2045.4 Z" fill="#1a1a1a"/>
</g>
<line x1="143.30" y1="1654.00" x2="143.30" y2="2174.40" stroke="#262626" stroke-width="2.2"/>
<line x1="127.50" y1="1654.90" x2="143.30" y2="1654.90" stroke="#262626" stroke-width="2.2"/>
<line x1="127.50" y1="1738.90" x2="143.30" y2="1738.90" stroke="#262626" stroke-width="2.2"/>
<line x1="127.50" y1="1823.20" x2="143.30" y2="1823.20" stroke="#262626" stroke-width="2.2"/>
<line x1="127.50" y1="1906.70" x2="143.30" y2="1906.70" stroke="#262626" stroke-width="2.2"/>
<line x1="127.50" y1="1990.50" x2="143.30" y2="1990.50" stroke="#262626" stroke-width="2.2"/>
<line x1="127.50" y1="2074.50" x2="143.30" y2="2074.50" stroke="#262626" stroke-width="2.2"/>
<line x1="127.50" y1="2158.30" x2="143.30" y2="2158.30" stroke="#262626" stroke-width="2.2"/>
<text transform="translate(79.41,1665.70) scale(0.9683,1)" font-size="30.11" fill="#1a1a1a">35</text>
<text transform="translate(79.41,1749.70) scale(0.9659,1)" font-size="30.11" fill="#1a1a1a">30</text>
<text transform="translate(79.02,1834.00) scale(0.9801,1)" font-size="30.11" fill="#1a1a1a">25</text>
<text transform="translate(79.03,1917.50) scale(0.9778,1)" font-size="30.11" fill="#1a1a1a">20</text>
<text transform="translate(78.23,2001.30) scale(1.0048,1)" font-size="30.11" fill="#1a1a1a">15</text>
<text transform="translate(78.24,2085.30) scale(1.0023,1)" font-size="30.11" fill="#1a1a1a">10</text>
<text transform="translate(94.23,2169.10) scale(1.0559,1)" font-size="30.11" fill="#1a1a1a">5</text>
<text transform="translate(32.20,2111.97) rotate(-90) scale(0.9009,1)" font-size="33.16" fill="#1a1a1a">Titre of IgG antibodies ( x 100)</text>
<line x1="142.30" y1="2158.00" x2="1396.50" y2="2158.00" stroke="#262626" stroke-width="2.4"/>
<line x1="142.90" y1="2158.00" x2="142.90" y2="2174.30" stroke="#262626" stroke-width="2.2"/>
<line x1="177.69" y1="2158.00" x2="177.69" y2="2174.30" stroke="#262626" stroke-width="2.2"/>
<line x1="212.48" y1="2158.00" x2="212.48" y2="2174.30" stroke="#262626" stroke-width="2.2"/>
<line x1="247.27" y1="2158.00" x2="247.27" y2="2174.30" stroke="#262626" stroke-width="2.2"/>
<line x1="282.06" y1="2158.00" x2="282.06" y2="2174.30" stroke="#262626" stroke-width="2.2"/>
<line x1="316.85" y1="2158.00" x2="316.85" y2="2174.30" stroke="#262626" stroke-width="2.2"/>
<line x1="351.64" y1="2158.00" x2="351.64" y2="2174.30" stroke="#262626" stroke-width="2.2"/>
<line x1="386.43" y1="2158.00" x2="386.43" y2="2174.30" stroke="#262626" stroke-width="2.2"/>
<line x1="421.22" y1="2158.00" x2="421.22" y2="2174.30" stroke="#262626" stroke-width="2.2"/>
<line x1="456.01" y1="2158.00" x2="456.01" y2="2174.30" stroke="#262626" stroke-width="2.2"/>
<line x1="490.80" y1="2158.00" x2="490.80" y2="2174.30" stroke="#262626" stroke-width="2.2"/>
<line x1="525.59" y1="2158.00" x2="525.59" y2="2174.30" stroke="#262626" stroke-width="2.2"/>
<line x1="560.38" y1="2158.00" x2="560.38" y2="2174.30" stroke="#262626" stroke-width="2.2"/>
<line x1="595.17" y1="2158.00" x2="595.17" y2="2174.30" stroke="#262626" stroke-width="2.2"/>
<line x1="629.96" y1="2158.00" x2="629.96" y2="2174.30" stroke="#262626" stroke-width="2.2"/>
<line x1="664.75" y1="2158.00" x2="664.75" y2="2174.30" stroke="#262626" stroke-width="2.2"/>
<line x1="699.54" y1="2158.00" x2="699.54" y2="2174.30" stroke="#262626" stroke-width="2.2"/>
<line x1="734.33" y1="2158.00" x2="734.33" y2="2174.30" stroke="#262626" stroke-width="2.2"/>
<line x1="769.12" y1="2158.00" x2="769.12" y2="2174.30" stroke="#262626" stroke-width="2.2"/>
<line x1="803.91" y1="2158.00" x2="803.91" y2="2174.30" stroke="#262626" stroke-width="2.2"/>
<line x1="838.70" y1="2158.00" x2="838.70" y2="2174.30" stroke="#262626" stroke-width="2.2"/>
<line x1="873.49" y1="2158.00" x2="873.49" y2="2174.30" stroke="#262626" stroke-width="2.2"/>
<line x1="908.28" y1="2158.00" x2="908.28" y2="2174.30" stroke="#262626" stroke-width="2.2"/>
<line x1="943.07" y1="2158.00" x2="943.07" y2="2174.30" stroke="#262626" stroke-width="2.2"/>
<line x1="977.86" y1="2158.00" x2="977.86" y2="2174.30" stroke="#262626" stroke-width="2.2"/>
<line x1="1012.65" y1="2158.00" x2="1012.65" y2="2174.30" stroke="#262626" stroke-width="2.2"/>
<line x1="1047.44" y1="2158.00" x2="1047.44" y2="2174.30" stroke="#262626" stroke-width="2.2"/>
<line x1="1082.23" y1="2158.00" x2="1082.23" y2="2174.30" stroke="#262626" stroke-width="2.2"/>
<line x1="1117.02" y1="2158.00" x2="1117.02" y2="2174.30" stroke="#262626" stroke-width="2.2"/>
<line x1="1151.81" y1="2158.00" x2="1151.81" y2="2174.30" stroke="#262626" stroke-width="2.2"/>
<line x1="1186.60" y1="2158.00" x2="1186.60" y2="2174.30" stroke="#262626" stroke-width="2.2"/>
<line x1="1221.39" y1="2158.00" x2="1221.39" y2="2174.30" stroke="#262626" stroke-width="2.2"/>
<line x1="1256.18" y1="2158.00" x2="1256.18" y2="2174.30" stroke="#262626" stroke-width="2.2"/>
<line x1="1290.97" y1="2158.00" x2="1290.97" y2="2174.30" stroke="#262626" stroke-width="2.2"/>
<line x1="1325.76" y1="2158.00" x2="1325.76" y2="2174.30" stroke="#262626" stroke-width="2.2"/>
<line x1="1360.55" y1="2158.00" x2="1360.55" y2="2174.30" stroke="#262626" stroke-width="2.2"/>
<line x1="1395.34" y1="2158.00" x2="1395.34" y2="2174.30" stroke="#262626" stroke-width="2.2"/>
<text transform="translate(138.75,2206.00) scale(0.9391,1)" font-size="31.85" fill="#1a1a1a">Jan.</text>
<text transform="translate(245.12,2206.00) scale(0.9427,1)" font-size="31.85" fill="#1a1a1a">Apr.</text>
<text transform="translate(348.27,2206.00) scale(0.9097,1)" font-size="31.85" fill="#1a1a1a">July</text>
<text transform="translate(451.64,2206.00) scale(0.9668,1)" font-size="31.85" fill="#1a1a1a">Oct.</text>
<text transform="translate(556.45,2206.00) scale(0.9391,1)" font-size="31.85" fill="#1a1a1a">Jan.</text>
<text transform="translate(662.82,2206.00) scale(0.9427,1)" font-size="31.85" fill="#1a1a1a">Apr.</text>
<text transform="translate(765.97,2206.00) scale(0.9097,1)" font-size="31.85" fill="#1a1a1a">July</text>
<text transform="translate(869.64,2206.00) scale(0.9668,1)" font-size="31.85" fill="#1a1a1a">Oct.</text>
<text transform="translate(973.95,2206.00) scale(0.9391,1)" font-size="31.85" fill="#1a1a1a">Jan.</text>
<text transform="translate(1080.32,2206.00) scale(0.9427,1)" font-size="31.85" fill="#1a1a1a">Apr.</text>
<text transform="translate(1183.17,2206.00) scale(0.9097,1)" font-size="31.85" fill="#1a1a1a">July</text>
<text transform="translate(1287.14,2206.00) scale(0.9668,1)" font-size="31.85" fill="#1a1a1a">Oct.</text>
<text transform="translate(175.78,1886.40) scale(0.8908,1)" font-size="34.18" fill="#1a1a1a">IgG</text>
<rect x="159.70" y="1661.40" width="171.40" height="112.60" fill="#fff" stroke="#2a2a2a" stroke-width="1.8"/>
<path d="M185.4,1674.3 L202.1,1690.3 L185.4,1706.4 L168.6,1690.3 Z" fill="#1a1a1a"/>
<circle cx="185" cy="1746.4" r="12.2" fill="#c4c4c4" stroke="#222" stroke-width="2.8"/>
<text transform="translate(211.46,1698.90) scale(0.8537,1)" font-size="33.69" fill="#1a1a1a">Group 1</text>
<text transform="translate(209.21,1757.90) scale(0.8556,1)" font-size="34.84" fill="#1a1a1a">Group 2</text>
</svg></body></html>
